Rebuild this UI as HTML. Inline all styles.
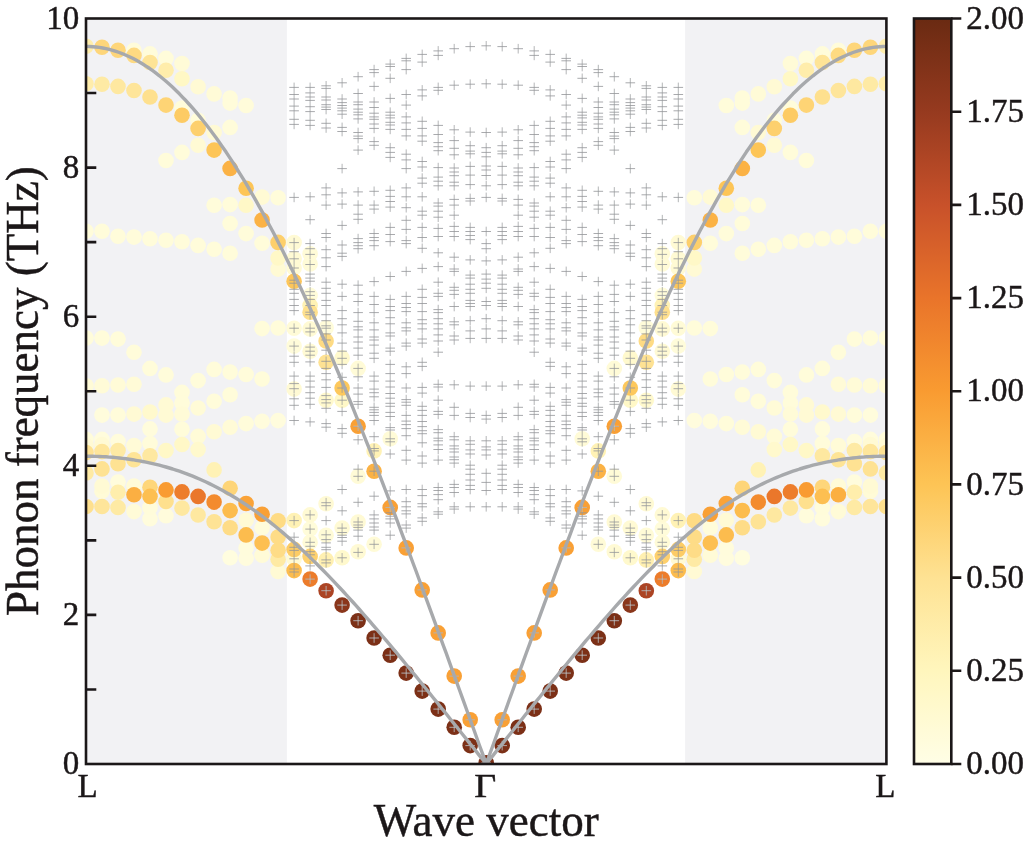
<!DOCTYPE html>
<html><head><meta charset="utf-8"><title>Phonon dispersion</title>
<style>html,body{margin:0;padding:0;background:#fff}svg{display:block}text{font-family:"Liberation Serif","DejaVu Serif",serif;fill:#1b1718;stroke:#1b1718;stroke-width:0.45px}</style></head><body>
<svg width="1025" height="849" viewBox="0 0 1025 849">
<rect x="0" y="0" width="1025" height="849" fill="#fff"/>
<defs><linearGradient id="cb" x1="0" y1="1" x2="0" y2="0">
<stop offset="0" stop-color="#fffee6"/>
<stop offset="0.125" stop-color="#fff6bd"/>
<stop offset="0.25" stop-color="#fee293"/>
<stop offset="0.375" stop-color="#fdc455"/>
<stop offset="0.5" stop-color="#f99b31"/>
<stop offset="0.625" stop-color="#e9742a"/>
<stop offset="0.75" stop-color="#c8512a"/>
<stop offset="0.875" stop-color="#963a1f"/>
<stop offset="1" stop-color="#6a2a12"/>
</linearGradient><clipPath id="ax"><rect x="86" y="18.5" width="800.4" height="745.5"/></clipPath></defs>
<rect x="86" y="18.5" width="200.9" height="745.5" fill="#f2f2f4"/>
<rect x="685.1" y="18.5" width="201.3" height="745.5" fill="#f2f2f4"/>
<g clip-path="url(#ax)">
<g>
<circle cx="230.1" cy="557.7" r="7.8" fill="#fffddf" fill-opacity="1"/>
<circle cx="742.3" cy="557.7" r="7.8" fill="#fffddf" fill-opacity="1"/>
<circle cx="278.1" cy="420.6" r="7.8" fill="#fffcdd" fill-opacity="1"/>
<circle cx="694.3" cy="420.6" r="7.8" fill="#fffcdd" fill-opacity="1"/>
<circle cx="246.1" cy="558.3" r="7.8" fill="#fffcdd" fill-opacity="1"/>
<circle cx="726.3" cy="558.3" r="7.8" fill="#fffcdd" fill-opacity="1"/>
<circle cx="102.0" cy="415.1" r="7.8" fill="#fffcdc" fill-opacity="1"/>
<circle cx="870.4" cy="415.1" r="7.8" fill="#fffcdc" fill-opacity="1"/>
<circle cx="150.0" cy="428.9" r="7.8" fill="#fffcdc" fill-opacity="1"/>
<circle cx="822.4" cy="428.9" r="7.8" fill="#fffcdc" fill-opacity="1"/>
<circle cx="262.1" cy="421.2" r="7.8" fill="#fffcdc" fill-opacity="1"/>
<circle cx="710.3" cy="421.2" r="7.8" fill="#fffcdc" fill-opacity="1"/>
<circle cx="102.0" cy="439.4" r="7.8" fill="#fffcdc" fill-opacity="1"/>
<circle cx="870.4" cy="439.4" r="7.8" fill="#fffcdc" fill-opacity="1"/>
<circle cx="118.0" cy="441.5" r="7.8" fill="#fffcdc" fill-opacity="1"/>
<circle cx="854.4" cy="441.5" r="7.8" fill="#fffcdc" fill-opacity="1"/>
<circle cx="118.0" cy="482.0" r="7.8" fill="#fffcdc" fill-opacity="1"/>
<circle cx="854.4" cy="482.0" r="7.8" fill="#fffcdc" fill-opacity="1"/>
<circle cx="150.0" cy="518.7" r="7.8" fill="#fffcdc" fill-opacity="1"/>
<circle cx="822.4" cy="518.7" r="7.8" fill="#fffcdc" fill-opacity="1"/>
<circle cx="166.0" cy="515.7" r="7.8" fill="#fffcdc" fill-opacity="1"/>
<circle cx="806.4" cy="515.7" r="7.8" fill="#fffcdc" fill-opacity="1"/>
<circle cx="246.1" cy="548.1" r="7.8" fill="#fffcdc" fill-opacity="1"/>
<circle cx="726.3" cy="548.1" r="7.8" fill="#fffcdc" fill-opacity="1"/>
<circle cx="230.1" cy="98.0" r="7.8" fill="#fffcda" fill-opacity="1"/>
<circle cx="742.3" cy="98.0" r="7.8" fill="#fffcda" fill-opacity="1"/>
<circle cx="230.1" cy="103.1" r="7.8" fill="#fffcda" fill-opacity="1"/>
<circle cx="742.3" cy="103.1" r="7.8" fill="#fffcda" fill-opacity="1"/>
<circle cx="246.1" cy="105.5" r="7.8" fill="#fffcda" fill-opacity="1"/>
<circle cx="726.3" cy="105.5" r="7.8" fill="#fffcda" fill-opacity="1"/>
<circle cx="134.0" cy="50.3" r="7.8" fill="#fffcda" fill-opacity="1"/>
<circle cx="838.4" cy="50.3" r="7.8" fill="#fffcda" fill-opacity="1"/>
<circle cx="150.0" cy="53.9" r="7.8" fill="#fffcda" fill-opacity="1"/>
<circle cx="822.4" cy="53.9" r="7.8" fill="#fffcda" fill-opacity="1"/>
<circle cx="166.0" cy="58.4" r="7.8" fill="#fffcda" fill-opacity="1"/>
<circle cx="806.4" cy="58.4" r="7.8" fill="#fffcda" fill-opacity="1"/>
<circle cx="182.0" cy="108.1" r="7.8" fill="#fffcda" fill-opacity="1"/>
<circle cx="790.4" cy="108.1" r="7.8" fill="#fffcda" fill-opacity="1"/>
<circle cx="198.1" cy="120.3" r="7.8" fill="#fffcda" fill-opacity="1"/>
<circle cx="774.3" cy="120.3" r="7.8" fill="#fffcda" fill-opacity="1"/>
<circle cx="230.1" cy="127.4" r="7.8" fill="#fffcda" fill-opacity="1"/>
<circle cx="742.3" cy="127.4" r="7.8" fill="#fffcda" fill-opacity="1"/>
<circle cx="166.0" cy="160.5" r="7.8" fill="#fffcda" fill-opacity="1"/>
<circle cx="806.4" cy="160.5" r="7.8" fill="#fffcda" fill-opacity="1"/>
<circle cx="182.0" cy="152.4" r="7.8" fill="#fffcda" fill-opacity="1"/>
<circle cx="790.4" cy="152.4" r="7.8" fill="#fffcda" fill-opacity="1"/>
<circle cx="214.1" cy="205.2" r="7.8" fill="#fffcda" fill-opacity="1"/>
<circle cx="758.3" cy="205.2" r="7.8" fill="#fffcda" fill-opacity="1"/>
<circle cx="230.1" cy="204.6" r="7.8" fill="#fffcda" fill-opacity="1"/>
<circle cx="742.3" cy="204.6" r="7.8" fill="#fffcda" fill-opacity="1"/>
<circle cx="278.1" cy="197.7" r="7.8" fill="#fffcda" fill-opacity="1"/>
<circle cx="694.3" cy="197.7" r="7.8" fill="#fffcda" fill-opacity="1"/>
<circle cx="230.1" cy="223.5" r="7.8" fill="#fffcda" fill-opacity="1"/>
<circle cx="742.3" cy="223.5" r="7.8" fill="#fffcda" fill-opacity="1"/>
<circle cx="246.1" cy="233.6" r="7.8" fill="#fffcda" fill-opacity="1"/>
<circle cx="726.3" cy="233.6" r="7.8" fill="#fffcda" fill-opacity="1"/>
<circle cx="262.1" cy="243.2" r="7.8" fill="#fffcda" fill-opacity="1"/>
<circle cx="710.3" cy="243.2" r="7.8" fill="#fffcda" fill-opacity="1"/>
<circle cx="86.0" cy="231.2" r="7.8" fill="#fffcda" fill-opacity="1"/>
<circle cx="886.4" cy="231.2" r="7.8" fill="#fffcda" fill-opacity="1"/>
<circle cx="102.0" cy="231.2" r="7.8" fill="#fffcda" fill-opacity="1"/>
<circle cx="870.4" cy="231.2" r="7.8" fill="#fffcda" fill-opacity="1"/>
<circle cx="118.0" cy="236.3" r="7.8" fill="#fffcda" fill-opacity="1"/>
<circle cx="854.4" cy="236.3" r="7.8" fill="#fffcda" fill-opacity="1"/>
<circle cx="134.0" cy="237.1" r="7.8" fill="#fffcda" fill-opacity="1"/>
<circle cx="838.4" cy="237.1" r="7.8" fill="#fffcda" fill-opacity="1"/>
<circle cx="150.0" cy="238.7" r="7.8" fill="#fffcda" fill-opacity="1"/>
<circle cx="822.4" cy="238.7" r="7.8" fill="#fffcda" fill-opacity="1"/>
<circle cx="166.0" cy="240.3" r="7.8" fill="#fffcda" fill-opacity="1"/>
<circle cx="806.4" cy="240.3" r="7.8" fill="#fffcda" fill-opacity="1"/>
<circle cx="182.0" cy="241.7" r="7.8" fill="#fffcda" fill-opacity="1"/>
<circle cx="790.4" cy="241.7" r="7.8" fill="#fffcda" fill-opacity="1"/>
<circle cx="198.1" cy="245.4" r="7.8" fill="#fffcda" fill-opacity="1"/>
<circle cx="774.3" cy="245.4" r="7.8" fill="#fffcda" fill-opacity="1"/>
<circle cx="214.1" cy="249.3" r="7.8" fill="#fffcda" fill-opacity="1"/>
<circle cx="758.3" cy="249.3" r="7.8" fill="#fffcda" fill-opacity="1"/>
<circle cx="230.1" cy="253.3" r="7.8" fill="#fffcda" fill-opacity="1"/>
<circle cx="742.3" cy="253.3" r="7.8" fill="#fffcda" fill-opacity="1"/>
<circle cx="262.1" cy="328.6" r="7.8" fill="#fffcda" fill-opacity="1"/>
<circle cx="710.3" cy="328.6" r="7.8" fill="#fffcda" fill-opacity="1"/>
<circle cx="278.1" cy="328.0" r="7.8" fill="#fffcda" fill-opacity="1"/>
<circle cx="694.3" cy="328.0" r="7.8" fill="#fffcda" fill-opacity="1"/>
<circle cx="86.0" cy="338.1" r="7.8" fill="#fffcda" fill-opacity="1"/>
<circle cx="886.4" cy="338.1" r="7.8" fill="#fffcda" fill-opacity="1"/>
<circle cx="102.0" cy="338.1" r="7.8" fill="#fffcda" fill-opacity="1"/>
<circle cx="870.4" cy="338.1" r="7.8" fill="#fffcda" fill-opacity="1"/>
<circle cx="118.0" cy="339.1" r="7.8" fill="#fffcda" fill-opacity="1"/>
<circle cx="854.4" cy="339.1" r="7.8" fill="#fffcda" fill-opacity="1"/>
<circle cx="134.0" cy="352.3" r="7.8" fill="#fffcda" fill-opacity="1"/>
<circle cx="838.4" cy="352.3" r="7.8" fill="#fffcda" fill-opacity="1"/>
<circle cx="150.0" cy="368.4" r="7.8" fill="#fffcda" fill-opacity="1"/>
<circle cx="822.4" cy="368.4" r="7.8" fill="#fffcda" fill-opacity="1"/>
<circle cx="166.0" cy="374.9" r="7.8" fill="#fffcda" fill-opacity="1"/>
<circle cx="806.4" cy="374.9" r="7.8" fill="#fffcda" fill-opacity="1"/>
<circle cx="198.1" cy="380.6" r="7.8" fill="#fffcda" fill-opacity="1"/>
<circle cx="774.3" cy="380.6" r="7.8" fill="#fffcda" fill-opacity="1"/>
<circle cx="214.1" cy="369.4" r="7.8" fill="#fffcda" fill-opacity="1"/>
<circle cx="758.3" cy="369.4" r="7.8" fill="#fffcda" fill-opacity="1"/>
<circle cx="230.1" cy="372.1" r="7.8" fill="#fffcda" fill-opacity="1"/>
<circle cx="742.3" cy="372.1" r="7.8" fill="#fffcda" fill-opacity="1"/>
<circle cx="246.1" cy="374.5" r="7.8" fill="#fffcda" fill-opacity="1"/>
<circle cx="726.3" cy="374.5" r="7.8" fill="#fffcda" fill-opacity="1"/>
<circle cx="262.1" cy="379.0" r="7.8" fill="#fffcda" fill-opacity="1"/>
<circle cx="710.3" cy="379.0" r="7.8" fill="#fffcda" fill-opacity="1"/>
<circle cx="118.0" cy="415.1" r="7.8" fill="#fffcda" fill-opacity="1"/>
<circle cx="854.4" cy="415.1" r="7.8" fill="#fffcda" fill-opacity="1"/>
<circle cx="182.0" cy="392.4" r="7.8" fill="#fffcda" fill-opacity="1"/>
<circle cx="790.4" cy="392.4" r="7.8" fill="#fffcda" fill-opacity="1"/>
<circle cx="182.0" cy="402.9" r="7.8" fill="#fffcda" fill-opacity="1"/>
<circle cx="790.4" cy="402.9" r="7.8" fill="#fffcda" fill-opacity="1"/>
<circle cx="214.1" cy="401.3" r="7.8" fill="#fffcda" fill-opacity="1"/>
<circle cx="758.3" cy="401.3" r="7.8" fill="#fffcda" fill-opacity="1"/>
<circle cx="230.1" cy="394.8" r="7.8" fill="#fffcda" fill-opacity="1"/>
<circle cx="742.3" cy="394.8" r="7.8" fill="#fffcda" fill-opacity="1"/>
<circle cx="182.0" cy="429.3" r="7.8" fill="#fffcda" fill-opacity="1"/>
<circle cx="790.4" cy="429.3" r="7.8" fill="#fffcda" fill-opacity="1"/>
<circle cx="246.1" cy="423.6" r="7.8" fill="#fffcda" fill-opacity="1"/>
<circle cx="726.3" cy="423.6" r="7.8" fill="#fffcda" fill-opacity="1"/>
<circle cx="86.0" cy="439.4" r="7.8" fill="#fffcda" fill-opacity="1"/>
<circle cx="886.4" cy="439.4" r="7.8" fill="#fffcda" fill-opacity="1"/>
<circle cx="150.0" cy="443.5" r="7.8" fill="#fffcda" fill-opacity="1"/>
<circle cx="822.4" cy="443.5" r="7.8" fill="#fffcda" fill-opacity="1"/>
<circle cx="150.0" cy="507.5" r="7.8" fill="#fffcda" fill-opacity="1"/>
<circle cx="822.4" cy="507.5" r="7.8" fill="#fffcda" fill-opacity="1"/>
<circle cx="262.1" cy="527.8" r="7.8" fill="#fffcda" fill-opacity="1"/>
<circle cx="710.3" cy="527.8" r="7.8" fill="#fffcda" fill-opacity="1"/>
<circle cx="294.1" cy="346.1" r="7.8" fill="#fffcda" fill-opacity="1"/>
<circle cx="678.3" cy="346.1" r="7.8" fill="#fffcda" fill-opacity="1"/>
<circle cx="310.1" cy="295.4" r="7.8" fill="#fffcda" fill-opacity="1"/>
<circle cx="662.3" cy="295.4" r="7.8" fill="#fffcda" fill-opacity="1"/>
<circle cx="326.1" cy="327.8" r="7.8" fill="#fffcda" fill-opacity="1"/>
<circle cx="646.3" cy="327.8" r="7.8" fill="#fffcda" fill-opacity="1"/>
<circle cx="310.1" cy="529.1" r="7.8" fill="#fffcda" fill-opacity="1"/>
<circle cx="662.3" cy="529.1" r="7.8" fill="#fffcda" fill-opacity="1"/>
<circle cx="214.1" cy="93.9" r="7.8" fill="#fffbd7" fill-opacity="1"/>
<circle cx="758.3" cy="93.9" r="7.8" fill="#fffbd7" fill-opacity="1"/>
<circle cx="182.0" cy="63.5" r="7.8" fill="#fffbd7" fill-opacity="1"/>
<circle cx="790.4" cy="63.5" r="7.8" fill="#fffbd7" fill-opacity="1"/>
<circle cx="86.0" cy="385.7" r="7.8" fill="#fffbd7" fill-opacity="1"/>
<circle cx="886.4" cy="385.7" r="7.8" fill="#fffbd7" fill-opacity="1"/>
<circle cx="102.0" cy="385.7" r="7.8" fill="#fffbd7" fill-opacity="1"/>
<circle cx="870.4" cy="385.7" r="7.8" fill="#fffbd7" fill-opacity="1"/>
<circle cx="118.0" cy="385.0" r="7.8" fill="#fffbd7" fill-opacity="1"/>
<circle cx="854.4" cy="385.0" r="7.8" fill="#fffbd7" fill-opacity="1"/>
<circle cx="134.0" cy="384.2" r="7.8" fill="#fffbd7" fill-opacity="1"/>
<circle cx="838.4" cy="384.2" r="7.8" fill="#fffbd7" fill-opacity="1"/>
<circle cx="182.0" cy="414.1" r="7.8" fill="#fffbd7" fill-opacity="1"/>
<circle cx="790.4" cy="414.1" r="7.8" fill="#fffbd7" fill-opacity="1"/>
<circle cx="198.1" cy="408.0" r="7.8" fill="#fffbd7" fill-opacity="1"/>
<circle cx="774.3" cy="408.0" r="7.8" fill="#fffbd7" fill-opacity="1"/>
<circle cx="198.1" cy="436.4" r="7.8" fill="#fffbd7" fill-opacity="1"/>
<circle cx="774.3" cy="436.4" r="7.8" fill="#fffbd7" fill-opacity="1"/>
<circle cx="230.1" cy="427.3" r="7.8" fill="#fffbd7" fill-opacity="1"/>
<circle cx="742.3" cy="427.3" r="7.8" fill="#fffbd7" fill-opacity="1"/>
<circle cx="134.0" cy="445.5" r="7.8" fill="#fffbd7" fill-opacity="1"/>
<circle cx="838.4" cy="445.5" r="7.8" fill="#fffbd7" fill-opacity="1"/>
<circle cx="134.0" cy="486.1" r="7.8" fill="#fffbd7" fill-opacity="1"/>
<circle cx="838.4" cy="486.1" r="7.8" fill="#fffbd7" fill-opacity="1"/>
<circle cx="134.0" cy="511.6" r="7.8" fill="#fffbd7" fill-opacity="1"/>
<circle cx="838.4" cy="511.6" r="7.8" fill="#fffbd7" fill-opacity="1"/>
<circle cx="262.1" cy="555.2" r="7.8" fill="#fffbd7" fill-opacity="1"/>
<circle cx="710.3" cy="555.2" r="7.8" fill="#fffbd7" fill-opacity="1"/>
<circle cx="102.0" cy="491.3" r="7.8" fill="#fffbd7" fill-opacity="1"/>
<circle cx="870.4" cy="491.3" r="7.8" fill="#fffbd7" fill-opacity="1"/>
<circle cx="294.1" cy="328.2" r="7.8" fill="#fffbd7" fill-opacity="1"/>
<circle cx="678.3" cy="328.2" r="7.8" fill="#fffbd7" fill-opacity="1"/>
<circle cx="310.1" cy="253.8" r="7.8" fill="#fffbd7" fill-opacity="1"/>
<circle cx="662.3" cy="253.8" r="7.8" fill="#fffbd7" fill-opacity="1"/>
<circle cx="310.1" cy="263.9" r="7.8" fill="#fffbd7" fill-opacity="1"/>
<circle cx="662.3" cy="263.9" r="7.8" fill="#fffbd7" fill-opacity="1"/>
<circle cx="358.1" cy="368.4" r="7.8" fill="#fffbd7" fill-opacity="1"/>
<circle cx="614.3" cy="368.4" r="7.8" fill="#fffbd7" fill-opacity="1"/>
<circle cx="358.1" cy="476.3" r="7.8" fill="#fffbd7" fill-opacity="1"/>
<circle cx="614.3" cy="476.3" r="7.8" fill="#fffbd7" fill-opacity="1"/>
<circle cx="390.2" cy="438.8" r="7.8" fill="#fffbd7" fill-opacity="1"/>
<circle cx="582.2" cy="438.8" r="7.8" fill="#fffbd7" fill-opacity="1"/>
<circle cx="310.1" cy="542.3" r="7.8" fill="#fffbd7" fill-opacity="1"/>
<circle cx="662.3" cy="542.3" r="7.8" fill="#fffbd7" fill-opacity="1"/>
<circle cx="326.1" cy="535.2" r="7.8" fill="#fffbd7" fill-opacity="1"/>
<circle cx="646.3" cy="535.2" r="7.8" fill="#fffbd7" fill-opacity="1"/>
<circle cx="374.1" cy="544.3" r="7.8" fill="#fffbd7" fill-opacity="1"/>
<circle cx="598.3" cy="544.3" r="7.8" fill="#fffbd7" fill-opacity="1"/>
<circle cx="198.1" cy="86.8" r="7.8" fill="#fffad4" fill-opacity="1"/>
<circle cx="774.3" cy="86.8" r="7.8" fill="#fffad4" fill-opacity="1"/>
<circle cx="214.1" cy="132.5" r="7.8" fill="#fffad4" fill-opacity="1"/>
<circle cx="758.3" cy="132.5" r="7.8" fill="#fffad4" fill-opacity="1"/>
<circle cx="198.1" cy="145.3" r="7.8" fill="#fffad4" fill-opacity="1"/>
<circle cx="774.3" cy="145.3" r="7.8" fill="#fffad4" fill-opacity="1"/>
<circle cx="278.1" cy="269.1" r="7.8" fill="#fffad4" fill-opacity="1"/>
<circle cx="694.3" cy="269.1" r="7.8" fill="#fffad4" fill-opacity="1"/>
<circle cx="262.1" cy="197.1" r="7.8" fill="#fffad4" fill-opacity="1"/>
<circle cx="710.3" cy="197.1" r="7.8" fill="#fffad4" fill-opacity="1"/>
<circle cx="134.0" cy="414.1" r="7.8" fill="#fffad4" fill-opacity="1"/>
<circle cx="838.4" cy="414.1" r="7.8" fill="#fffad4" fill-opacity="1"/>
<circle cx="166.0" cy="404.9" r="7.8" fill="#fffad4" fill-opacity="1"/>
<circle cx="806.4" cy="404.9" r="7.8" fill="#fffad4" fill-opacity="1"/>
<circle cx="166.0" cy="415.1" r="7.8" fill="#fffad4" fill-opacity="1"/>
<circle cx="806.4" cy="415.1" r="7.8" fill="#fffad4" fill-opacity="1"/>
<circle cx="214.1" cy="431.7" r="7.8" fill="#fffad4" fill-opacity="1"/>
<circle cx="758.3" cy="431.7" r="7.8" fill="#fffad4" fill-opacity="1"/>
<circle cx="86.0" cy="445.5" r="7.8" fill="#fffad4" fill-opacity="1"/>
<circle cx="886.4" cy="445.5" r="7.8" fill="#fffad4" fill-opacity="1"/>
<circle cx="102.0" cy="444.5" r="7.8" fill="#fffad4" fill-opacity="1"/>
<circle cx="870.4" cy="444.5" r="7.8" fill="#fffad4" fill-opacity="1"/>
<circle cx="102.0" cy="486.1" r="7.8" fill="#fffad4" fill-opacity="1"/>
<circle cx="870.4" cy="486.1" r="7.8" fill="#fffad4" fill-opacity="1"/>
<circle cx="278.1" cy="571.5" r="7.8" fill="#fffad4" fill-opacity="1"/>
<circle cx="694.3" cy="571.5" r="7.8" fill="#fffad4" fill-opacity="1"/>
<circle cx="246.1" cy="520.3" r="7.8" fill="#fffad4" fill-opacity="1"/>
<circle cx="726.3" cy="520.3" r="7.8" fill="#fffad4" fill-opacity="1"/>
<circle cx="294.1" cy="242.6" r="7.8" fill="#fffad4" fill-opacity="1"/>
<circle cx="678.3" cy="242.6" r="7.8" fill="#fffad4" fill-opacity="1"/>
<circle cx="294.1" cy="258.8" r="7.8" fill="#fffad4" fill-opacity="1"/>
<circle cx="678.3" cy="258.8" r="7.8" fill="#fffad4" fill-opacity="1"/>
<circle cx="294.1" cy="268.0" r="7.8" fill="#fffad4" fill-opacity="1"/>
<circle cx="678.3" cy="268.0" r="7.8" fill="#fffad4" fill-opacity="1"/>
<circle cx="310.1" cy="328.9" r="7.8" fill="#fffad4" fill-opacity="1"/>
<circle cx="662.3" cy="328.9" r="7.8" fill="#fffad4" fill-opacity="1"/>
<circle cx="310.1" cy="351.2" r="7.8" fill="#fffad4" fill-opacity="1"/>
<circle cx="662.3" cy="351.2" r="7.8" fill="#fffad4" fill-opacity="1"/>
<circle cx="294.1" cy="389.1" r="7.8" fill="#fffad4" fill-opacity="1"/>
<circle cx="678.3" cy="389.1" r="7.8" fill="#fffad4" fill-opacity="1"/>
<circle cx="326.1" cy="503.7" r="7.8" fill="#fffad4" fill-opacity="1"/>
<circle cx="646.3" cy="503.7" r="7.8" fill="#fffad4" fill-opacity="1"/>
<circle cx="310.1" cy="514.9" r="7.8" fill="#fffad4" fill-opacity="1"/>
<circle cx="662.3" cy="514.9" r="7.8" fill="#fffad4" fill-opacity="1"/>
<circle cx="342.1" cy="528.1" r="7.8" fill="#fffad4" fill-opacity="1"/>
<circle cx="630.3" cy="528.1" r="7.8" fill="#fffad4" fill-opacity="1"/>
<circle cx="358.1" cy="522.0" r="7.8" fill="#fffad4" fill-opacity="1"/>
<circle cx="614.3" cy="522.0" r="7.8" fill="#fffad4" fill-opacity="1"/>
<circle cx="294.1" cy="558.8" r="7.8" fill="#fffad4" fill-opacity="1"/>
<circle cx="678.3" cy="558.8" r="7.8" fill="#fffad4" fill-opacity="1"/>
<circle cx="358.1" cy="551.7" r="7.8" fill="#fffad4" fill-opacity="1"/>
<circle cx="614.3" cy="551.7" r="7.8" fill="#fffad4" fill-opacity="1"/>
<circle cx="150.0" cy="412.0" r="7.8" fill="#fff9cd" fill-opacity="1"/>
<circle cx="822.4" cy="412.0" r="7.8" fill="#fff9cd" fill-opacity="1"/>
<circle cx="198.1" cy="449.6" r="7.8" fill="#fff9cd" fill-opacity="1"/>
<circle cx="774.3" cy="449.6" r="7.8" fill="#fff9cd" fill-opacity="1"/>
<circle cx="342.1" cy="357.9" r="7.8" fill="#fff9cd" fill-opacity="1"/>
<circle cx="630.3" cy="357.9" r="7.8" fill="#fff9cd" fill-opacity="1"/>
<circle cx="326.1" cy="400.2" r="7.8" fill="#fff9cd" fill-opacity="1"/>
<circle cx="646.3" cy="400.2" r="7.8" fill="#fff9cd" fill-opacity="1"/>
<circle cx="342.1" cy="557.8" r="7.8" fill="#fff9cd" fill-opacity="1"/>
<circle cx="630.3" cy="557.8" r="7.8" fill="#fff9cd" fill-opacity="1"/>
<circle cx="278.1" cy="258.0" r="7.8" fill="#fff8c7" fill-opacity="1"/>
<circle cx="694.3" cy="258.0" r="7.8" fill="#fff8c7" fill-opacity="1"/>
<circle cx="246.1" cy="205.2" r="7.8" fill="#fff8c7" fill-opacity="1"/>
<circle cx="726.3" cy="205.2" r="7.8" fill="#fff8c7" fill-opacity="1"/>
<circle cx="166.0" cy="450.6" r="7.8" fill="#fff8c7" fill-opacity="1"/>
<circle cx="806.4" cy="450.6" r="7.8" fill="#fff8c7" fill-opacity="1"/>
<circle cx="182.0" cy="444.5" r="7.8" fill="#fff8c7" fill-opacity="1"/>
<circle cx="790.4" cy="444.5" r="7.8" fill="#fff8c7" fill-opacity="1"/>
<circle cx="342.1" cy="400.2" r="7.8" fill="#fff8c7" fill-opacity="1"/>
<circle cx="630.3" cy="400.2" r="7.8" fill="#fff8c7" fill-opacity="1"/>
<circle cx="182.0" cy="78.7" r="7.8" fill="#fff8c5" fill-opacity="1"/>
<circle cx="790.4" cy="78.7" r="7.8" fill="#fff8c5" fill-opacity="1"/>
<circle cx="214.1" cy="469.9" r="7.8" fill="#fff2b5" fill-opacity="1"/>
<circle cx="758.3" cy="469.9" r="7.8" fill="#fff2b5" fill-opacity="1"/>
<circle cx="310.1" cy="305.5" r="7.8" fill="#fff2b5" fill-opacity="1"/>
<circle cx="662.3" cy="305.5" r="7.8" fill="#fff2b5" fill-opacity="1"/>
<circle cx="374.1" cy="450.9" r="7.8" fill="#fff2b5" fill-opacity="1"/>
<circle cx="598.3" cy="450.9" r="7.8" fill="#fff2b5" fill-opacity="1"/>
<circle cx="294.1" cy="520.6" r="7.8" fill="#fff2b5" fill-opacity="1"/>
<circle cx="678.3" cy="520.6" r="7.8" fill="#fff2b5" fill-opacity="1"/>
<circle cx="326.1" cy="559.9" r="7.8" fill="#fff0b1" fill-opacity="1"/>
<circle cx="646.3" cy="559.9" r="7.8" fill="#fff0b1" fill-opacity="1"/>
<circle cx="86.0" cy="46.2" r="7.8" fill="#ffeeac" fill-opacity="1"/>
<circle cx="886.4" cy="46.2" r="7.8" fill="#ffeeac" fill-opacity="1"/>
<circle cx="118.0" cy="492.2" r="7.8" fill="#ffeeac" fill-opacity="1"/>
<circle cx="854.4" cy="492.2" r="7.8" fill="#ffeeac" fill-opacity="1"/>
<circle cx="166.0" cy="70.2" r="7.8" fill="#ffedab" fill-opacity="1"/>
<circle cx="806.4" cy="70.2" r="7.8" fill="#ffedab" fill-opacity="1"/>
<circle cx="86.0" cy="83.8" r="7.8" fill="#ffedab" fill-opacity="1"/>
<circle cx="886.4" cy="83.8" r="7.8" fill="#ffedab" fill-opacity="1"/>
<circle cx="102.0" cy="84.2" r="7.8" fill="#feeaa4" fill-opacity="1"/>
<circle cx="870.4" cy="84.2" r="7.8" fill="#feeaa4" fill-opacity="1"/>
<circle cx="86.0" cy="472.9" r="7.8" fill="#feeaa4" fill-opacity="1"/>
<circle cx="886.4" cy="472.9" r="7.8" fill="#feeaa4" fill-opacity="1"/>
<circle cx="118.0" cy="450.6" r="7.8" fill="#feeaa4" fill-opacity="1"/>
<circle cx="854.4" cy="450.6" r="7.8" fill="#feeaa4" fill-opacity="1"/>
<circle cx="278.1" cy="559.3" r="7.8" fill="#feeaa4" fill-opacity="1"/>
<circle cx="694.3" cy="559.3" r="7.8" fill="#feeaa4" fill-opacity="1"/>
<circle cx="118.0" cy="507.5" r="7.8" fill="#feeaa4" fill-opacity="1"/>
<circle cx="854.4" cy="507.5" r="7.8" fill="#feeaa4" fill-opacity="1"/>
<circle cx="118.0" cy="86.4" r="7.8" fill="#fee8a0" fill-opacity="1"/>
<circle cx="854.4" cy="86.4" r="7.8" fill="#fee8a0" fill-opacity="1"/>
<circle cx="150.0" cy="455.7" r="7.8" fill="#fee8a0" fill-opacity="1"/>
<circle cx="822.4" cy="455.7" r="7.8" fill="#fee8a0" fill-opacity="1"/>
<circle cx="182.0" cy="508.1" r="7.8" fill="#fee8a0" fill-opacity="1"/>
<circle cx="790.4" cy="508.1" r="7.8" fill="#fee8a0" fill-opacity="1"/>
<circle cx="198.1" cy="515.0" r="7.8" fill="#fee8a0" fill-opacity="1"/>
<circle cx="774.3" cy="515.0" r="7.8" fill="#fee8a0" fill-opacity="1"/>
<circle cx="102.0" cy="451.6" r="7.8" fill="#fee69b" fill-opacity="1"/>
<circle cx="870.4" cy="451.6" r="7.8" fill="#fee69b" fill-opacity="1"/>
<circle cx="134.0" cy="90.5" r="7.8" fill="#fee59a" fill-opacity="1"/>
<circle cx="838.4" cy="90.5" r="7.8" fill="#fee59a" fill-opacity="1"/>
<circle cx="102.0" cy="506.5" r="7.8" fill="#fee59a" fill-opacity="1"/>
<circle cx="870.4" cy="506.5" r="7.8" fill="#fee59a" fill-opacity="1"/>
<circle cx="150.0" cy="62.5" r="7.8" fill="#fee496" fill-opacity="1"/>
<circle cx="822.4" cy="62.5" r="7.8" fill="#fee496" fill-opacity="1"/>
<circle cx="134.0" cy="459.7" r="7.8" fill="#fee496" fill-opacity="1"/>
<circle cx="838.4" cy="459.7" r="7.8" fill="#fee496" fill-opacity="1"/>
<circle cx="214.1" cy="521.7" r="7.8" fill="#fee395" fill-opacity="1"/>
<circle cx="758.3" cy="521.7" r="7.8" fill="#fee395" fill-opacity="1"/>
<circle cx="86.0" cy="452.6" r="7.8" fill="#fee293" fill-opacity="1"/>
<circle cx="886.4" cy="452.6" r="7.8" fill="#fee293" fill-opacity="1"/>
<circle cx="102.0" cy="468.9" r="7.8" fill="#fee293" fill-opacity="1"/>
<circle cx="870.4" cy="468.9" r="7.8" fill="#fee293" fill-opacity="1"/>
<circle cx="118.0" cy="463.8" r="7.8" fill="#fee293" fill-opacity="1"/>
<circle cx="854.4" cy="463.8" r="7.8" fill="#fee293" fill-opacity="1"/>
<circle cx="326.1" cy="362.3" r="7.8" fill="#fee293" fill-opacity="1"/>
<circle cx="646.3" cy="362.3" r="7.8" fill="#fee293" fill-opacity="1"/>
<circle cx="150.0" cy="97.0" r="7.8" fill="#fee08e" fill-opacity="1"/>
<circle cx="822.4" cy="97.0" r="7.8" fill="#fee08e" fill-opacity="1"/>
<circle cx="166.0" cy="501.5" r="7.8" fill="#fee08e" fill-opacity="1"/>
<circle cx="806.4" cy="501.5" r="7.8" fill="#fee08e" fill-opacity="1"/>
<circle cx="86.0" cy="506.5" r="7.8" fill="#fee08e" fill-opacity="1"/>
<circle cx="886.4" cy="506.5" r="7.8" fill="#fee08e" fill-opacity="1"/>
<circle cx="310.1" cy="312.2" r="7.8" fill="#fee08e" fill-opacity="1"/>
<circle cx="662.3" cy="312.2" r="7.8" fill="#fee08e" fill-opacity="1"/>
<circle cx="278.1" cy="537.0" r="7.8" fill="#fedc87" fill-opacity="1"/>
<circle cx="694.3" cy="537.0" r="7.8" fill="#fedc87" fill-opacity="1"/>
<circle cx="278.1" cy="550.2" r="7.8" fill="#fedc87" fill-opacity="1"/>
<circle cx="694.3" cy="550.2" r="7.8" fill="#fedc87" fill-opacity="1"/>
<circle cx="230.1" cy="527.8" r="7.8" fill="#fedc87" fill-opacity="1"/>
<circle cx="742.3" cy="527.8" r="7.8" fill="#fedc87" fill-opacity="1"/>
<circle cx="278.1" cy="520.7" r="7.8" fill="#fedb84" fill-opacity="1"/>
<circle cx="694.3" cy="520.7" r="7.8" fill="#fedb84" fill-opacity="1"/>
<circle cx="326.1" cy="341.0" r="7.8" fill="#fedb84" fill-opacity="1"/>
<circle cx="646.3" cy="341.0" r="7.8" fill="#fedb84" fill-opacity="1"/>
<circle cx="134.0" cy="55.4" r="7.8" fill="#feda82" fill-opacity="1"/>
<circle cx="838.4" cy="55.4" r="7.8" fill="#feda82" fill-opacity="1"/>
<circle cx="102.0" cy="47.2" r="7.8" fill="#fed67a" fill-opacity="1"/>
<circle cx="870.4" cy="47.2" r="7.8" fill="#fed67a" fill-opacity="1"/>
<circle cx="118.0" cy="50.3" r="7.8" fill="#fed67a" fill-opacity="1"/>
<circle cx="854.4" cy="50.3" r="7.8" fill="#fed67a" fill-opacity="1"/>
<circle cx="150.0" cy="487.2" r="7.8" fill="#fed67a" fill-opacity="1"/>
<circle cx="822.4" cy="487.2" r="7.8" fill="#fed67a" fill-opacity="1"/>
<circle cx="230.1" cy="488.3" r="7.8" fill="#fed578" fill-opacity="1"/>
<circle cx="742.3" cy="488.3" r="7.8" fill="#fed578" fill-opacity="1"/>
<circle cx="166.0" cy="105.1" r="7.8" fill="#fed475" fill-opacity="1"/>
<circle cx="806.4" cy="105.1" r="7.8" fill="#fed475" fill-opacity="1"/>
<circle cx="198.1" cy="128.4" r="7.8" fill="#fdd06e" fill-opacity="1"/>
<circle cx="774.3" cy="128.4" r="7.8" fill="#fdd06e" fill-opacity="1"/>
<circle cx="310.1" cy="556.4" r="7.8" fill="#fdd06e" fill-opacity="1"/>
<circle cx="662.3" cy="556.4" r="7.8" fill="#fdd06e" fill-opacity="1"/>
<circle cx="278.1" cy="242.4" r="7.8" fill="#fdcf6b" fill-opacity="1"/>
<circle cx="694.3" cy="242.4" r="7.8" fill="#fdcf6b" fill-opacity="1"/>
<circle cx="294.1" cy="549.4" r="7.8" fill="#fdcc66" fill-opacity="1"/>
<circle cx="678.3" cy="549.4" r="7.8" fill="#fdcc66" fill-opacity="1"/>
<circle cx="182.0" cy="115.2" r="7.8" fill="#fdcb64" fill-opacity="1"/>
<circle cx="790.4" cy="115.2" r="7.8" fill="#fdcb64" fill-opacity="1"/>
<circle cx="342.1" cy="388.0" r="7.8" fill="#fdc85c" fill-opacity="1"/>
<circle cx="630.3" cy="388.0" r="7.8" fill="#fdc85c" fill-opacity="1"/>
<circle cx="294.1" cy="281.2" r="7.8" fill="#fdc65a" fill-opacity="1"/>
<circle cx="678.3" cy="281.2" r="7.8" fill="#fdc65a" fill-opacity="1"/>
<circle cx="214.1" cy="150.1" r="7.8" fill="#fdc557" fill-opacity="1"/>
<circle cx="758.3" cy="150.1" r="7.8" fill="#fdc557" fill-opacity="1"/>
<circle cx="246.1" cy="188.3" r="7.8" fill="#fdc557" fill-opacity="1"/>
<circle cx="726.3" cy="188.3" r="7.8" fill="#fdc557" fill-opacity="1"/>
<circle cx="150.0" cy="496.4" r="7.8" fill="#fdbf51" fill-opacity="1"/>
<circle cx="822.4" cy="496.4" r="7.8" fill="#fdbf51" fill-opacity="1"/>
<circle cx="262.1" cy="543.1" r="7.8" fill="#fdbf51" fill-opacity="1"/>
<circle cx="710.3" cy="543.1" r="7.8" fill="#fdbf51" fill-opacity="1"/>
<circle cx="230.1" cy="510.6" r="7.8" fill="#fcbc4e" fill-opacity="1"/>
<circle cx="742.3" cy="510.6" r="7.8" fill="#fcbc4e" fill-opacity="1"/>
<circle cx="246.1" cy="534.9" r="7.8" fill="#fcbc4e" fill-opacity="1"/>
<circle cx="726.3" cy="534.9" r="7.8" fill="#fcbc4e" fill-opacity="1"/>
<circle cx="294.1" cy="570.6" r="7.8" fill="#fcbc4e" fill-opacity="1"/>
<circle cx="678.3" cy="570.6" r="7.8" fill="#fcbc4e" fill-opacity="1"/>
<circle cx="230.1" cy="168.4" r="7.8" fill="#fbb245" fill-opacity="1"/>
<circle cx="742.3" cy="168.4" r="7.8" fill="#fbb245" fill-opacity="1"/>
<circle cx="262.1" cy="220.0" r="7.8" fill="#fbb245" fill-opacity="1"/>
<circle cx="710.3" cy="220.0" r="7.8" fill="#fbb245" fill-opacity="1"/>
<circle cx="374.1" cy="471.2" r="7.8" fill="#fbb245" fill-opacity="1"/>
<circle cx="598.3" cy="471.2" r="7.8" fill="#fbb245" fill-opacity="1"/>
<circle cx="134.0" cy="494.8" r="7.8" fill="#fbaf42" fill-opacity="1"/>
<circle cx="838.4" cy="494.8" r="7.8" fill="#fbaf42" fill-opacity="1"/>
<circle cx="246.1" cy="503.5" r="7.8" fill="#faa338" fill-opacity="1"/>
<circle cx="726.3" cy="503.5" r="7.8" fill="#faa338" fill-opacity="1"/>
<circle cx="262.1" cy="514.2" r="7.8" fill="#f9a035" fill-opacity="1"/>
<circle cx="710.3" cy="514.2" r="7.8" fill="#f9a035" fill-opacity="1"/>
<circle cx="358.1" cy="426.2" r="7.8" fill="#f9a035" fill-opacity="1"/>
<circle cx="614.3" cy="426.2" r="7.8" fill="#f9a035" fill-opacity="1"/>
<circle cx="390.2" cy="507.4" r="7.8" fill="#f9a035" fill-opacity="1"/>
<circle cx="582.2" cy="507.4" r="7.8" fill="#f9a035" fill-opacity="1"/>
<circle cx="406.2" cy="547.9" r="7.8" fill="#f9a035" fill-opacity="1"/>
<circle cx="566.2" cy="547.9" r="7.8" fill="#f9a035" fill-opacity="1"/>
<circle cx="422.2" cy="589.9" r="7.8" fill="#f9a035" fill-opacity="1"/>
<circle cx="550.2" cy="589.9" r="7.8" fill="#f9a035" fill-opacity="1"/>
<circle cx="438.2" cy="632.9" r="7.8" fill="#f9a035" fill-opacity="1"/>
<circle cx="534.2" cy="632.9" r="7.8" fill="#f9a035" fill-opacity="1"/>
<circle cx="454.2" cy="676.1" r="7.8" fill="#f9a035" fill-opacity="1"/>
<circle cx="518.2" cy="676.1" r="7.8" fill="#f9a035" fill-opacity="1"/>
<circle cx="470.2" cy="719.8" r="7.8" fill="#f9a035" fill-opacity="1"/>
<circle cx="502.2" cy="719.8" r="7.8" fill="#f9a035" fill-opacity="1"/>
<circle cx="166.0" cy="489.9" r="7.8" fill="#f99b31" fill-opacity="1"/>
<circle cx="806.4" cy="489.9" r="7.8" fill="#f99b31" fill-opacity="1"/>
<circle cx="214.1" cy="502.1" r="7.8" fill="#f38b2e" fill-opacity="1"/>
<circle cx="758.3" cy="502.1" r="7.8" fill="#f38b2e" fill-opacity="1"/>
<circle cx="182.0" cy="491.9" r="7.8" fill="#ed7d2c" fill-opacity="1"/>
<circle cx="790.4" cy="491.9" r="7.8" fill="#ed7d2c" fill-opacity="1"/>
<circle cx="310.1" cy="579.1" r="7.8" fill="#ec7c2b" fill-opacity="1"/>
<circle cx="662.3" cy="579.1" r="7.8" fill="#ec7c2b" fill-opacity="1"/>
<circle cx="198.1" cy="496.4" r="7.8" fill="#ea772b" fill-opacity="1"/>
<circle cx="774.3" cy="496.4" r="7.8" fill="#ea772b" fill-opacity="1"/>
<circle cx="326.1" cy="590.7" r="7.8" fill="#ac4424" fill-opacity="1"/>
<circle cx="646.3" cy="590.7" r="7.8" fill="#ac4424" fill-opacity="1"/>
<circle cx="342.1" cy="605.1" r="7.8" fill="#8a361b" fill-opacity="1"/>
<circle cx="630.3" cy="605.1" r="7.8" fill="#8a361b" fill-opacity="1"/>
<circle cx="358.1" cy="620.7" r="7.8" fill="#7c3017" fill-opacity="1"/>
<circle cx="614.3" cy="620.7" r="7.8" fill="#7c3017" fill-opacity="1"/>
<circle cx="374.1" cy="638.0" r="7.8" fill="#7c3017" fill-opacity="1"/>
<circle cx="598.3" cy="638.0" r="7.8" fill="#7c3017" fill-opacity="1"/>
<circle cx="390.2" cy="655.2" r="7.8" fill="#7c3017" fill-opacity="1"/>
<circle cx="582.2" cy="655.2" r="7.8" fill="#7c3017" fill-opacity="1"/>
<circle cx="406.2" cy="673.1" r="7.8" fill="#7c3017" fill-opacity="1"/>
<circle cx="566.2" cy="673.1" r="7.8" fill="#7c3017" fill-opacity="1"/>
<circle cx="422.2" cy="691.1" r="7.8" fill="#7c3017" fill-opacity="1"/>
<circle cx="550.2" cy="691.1" r="7.8" fill="#7c3017" fill-opacity="1"/>
<circle cx="438.2" cy="709.1" r="7.8" fill="#7c3017" fill-opacity="1"/>
<circle cx="534.2" cy="709.1" r="7.8" fill="#7c3017" fill-opacity="1"/>
<circle cx="454.2" cy="727.3" r="7.8" fill="#7c3017" fill-opacity="1"/>
<circle cx="518.2" cy="727.3" r="7.8" fill="#7c3017" fill-opacity="1"/>
<circle cx="470.2" cy="745.6" r="7.8" fill="#7c3017" fill-opacity="1"/>
<circle cx="502.2" cy="745.6" r="7.8" fill="#7c3017" fill-opacity="1"/>
<circle cx="486.2" cy="762.8" r="7.8" fill="#7c3017" fill-opacity="1"/>
</g>
<path d="M289.3 87.4h9.6M289.3 94.5h9.6M289.3 99.0h9.6M289.3 106.1h9.6M289.3 110.8h9.6M289.3 119.3h9.6M289.3 124.4h9.6M289.3 197.4h9.6M289.3 242.6h9.6M289.3 251.7h9.6M289.3 258.8h9.6M289.3 268.0h9.6M289.3 280.2h9.6M289.3 283.2h9.6M289.3 289.3h9.6M289.3 293.3h9.6M289.3 299.4h9.6M289.3 305.5h9.6M289.3 310.6h9.6M289.3 328.2h9.6M289.3 346.1h9.6M289.3 356.2h9.6M289.3 362.3h9.6M289.3 376.1h9.6M289.3 383.6h9.6M289.3 388.7h9.6M289.3 398.8h9.6M289.3 405.3h9.6M289.3 420.5h9.6M289.3 520.6h9.6M289.3 537.2h9.6M289.3 547.3h9.6M289.3 550.4h9.6M289.3 558.8h9.6M289.3 569.0h9.6M289.3 572.0h9.6M673.5 87.4h9.6M673.5 94.5h9.6M673.5 99.0h9.6M673.5 106.1h9.6M673.5 110.8h9.6M673.5 119.3h9.6M673.5 124.4h9.6M673.5 197.4h9.6M673.5 242.6h9.6M673.5 251.7h9.6M673.5 258.8h9.6M673.5 268.0h9.6M673.5 280.2h9.6M673.5 283.2h9.6M673.5 289.3h9.6M673.5 293.3h9.6M673.5 299.4h9.6M673.5 305.5h9.6M673.5 310.6h9.6M673.5 328.2h9.6M673.5 346.1h9.6M673.5 356.2h9.6M673.5 362.3h9.6M673.5 376.1h9.6M673.5 383.6h9.6M673.5 388.7h9.6M673.5 398.8h9.6M673.5 405.3h9.6M673.5 420.5h9.6M673.5 520.6h9.6M673.5 537.2h9.6M673.5 547.3h9.6M673.5 550.4h9.6M673.5 558.8h9.6M673.5 569.0h9.6M673.5 572.0h9.6M305.3 87.4h9.6M305.3 92.9h9.6M305.3 97.0h9.6M305.3 100.4h9.6M305.3 106.7h9.6M305.3 111.6h9.6M305.3 120.3h9.6M305.3 125.4h9.6M305.3 196.8h9.6M305.3 219.7h9.6M305.3 243.6h9.6M305.3 248.7h9.6M305.3 254.4h9.6M305.3 264.5h9.6M305.3 274.1h9.6M305.3 278.1h9.6M305.3 281.2h9.6M305.3 291.7h9.6M305.3 295.4h9.6M305.3 299.4h9.6M305.3 305.5h9.6M305.3 312.2h9.6M305.3 314.7h9.6M305.3 328.2h9.6M305.3 331.9h9.6M305.3 347.1h9.6M305.3 351.2h9.6M305.3 355.2h9.6M305.3 361.9h9.6M305.3 376.1h9.6M305.3 381.1h9.6M305.3 387.0h9.6M305.3 392.7h9.6M305.3 398.2h9.6M305.3 404.3h9.6M305.3 421.9h9.6M305.3 514.9h9.6M305.3 529.1h9.6M305.3 542.3h9.6M305.3 546.3h9.6M305.3 551.7h9.6M305.3 554.8h9.6M305.3 565.9h9.6M305.3 579.1h9.6M657.5 87.4h9.6M657.5 92.9h9.6M657.5 97.0h9.6M657.5 100.4h9.6M657.5 106.7h9.6M657.5 111.6h9.6M657.5 120.3h9.6M657.5 125.4h9.6M657.5 196.8h9.6M657.5 219.7h9.6M657.5 243.6h9.6M657.5 248.7h9.6M657.5 254.4h9.6M657.5 264.5h9.6M657.5 274.1h9.6M657.5 278.1h9.6M657.5 281.2h9.6M657.5 291.7h9.6M657.5 295.4h9.6M657.5 299.4h9.6M657.5 305.5h9.6M657.5 312.2h9.6M657.5 314.7h9.6M657.5 328.2h9.6M657.5 331.9h9.6M657.5 347.1h9.6M657.5 351.2h9.6M657.5 355.2h9.6M657.5 361.9h9.6M657.5 376.1h9.6M657.5 381.1h9.6M657.5 387.0h9.6M657.5 392.7h9.6M657.5 398.2h9.6M657.5 404.3h9.6M657.5 421.9h9.6M657.5 514.9h9.6M657.5 529.1h9.6M657.5 542.3h9.6M657.5 546.3h9.6M657.5 551.7h9.6M657.5 554.8h9.6M657.5 565.9h9.6M657.5 579.1h9.6M321.3 85.8h9.6M321.3 88.4h9.6M321.3 97.0h9.6M321.3 100.0h9.6M321.3 104.7h9.6M321.3 107.1h9.6M321.3 109.5h9.6M321.3 123.3h9.6M321.3 128.0h9.6M321.3 187.9h9.6M321.3 194.8h9.6M321.3 205.1h9.6M321.3 233.5h9.6M321.3 237.5h9.6M321.3 249.7h9.6M321.3 257.8h9.6M321.3 266.6h9.6M321.3 282.2h9.6M321.3 288.3h9.6M321.3 293.3h9.6M321.3 300.4h9.6M321.3 305.5h9.6M321.3 314.7h9.6M321.3 320.7h9.6M321.3 325.8h9.6M321.3 328.2h9.6M321.3 333.9h9.6M321.3 340.0h9.6M321.3 350.2h9.6M321.3 361.3h9.6M321.3 368.4h9.6M321.3 373.6h9.6M321.3 379.8h9.6M321.3 387.4h9.6M321.3 395.6h9.6M321.3 399.6h9.6M321.3 402.9h9.6M321.3 408.3h9.6M321.3 423.6h9.6M321.3 427.2h9.6M321.3 502.7h9.6M321.3 505.7h9.6M321.3 520.6h9.6M321.3 534.8h9.6M321.3 539.6h9.6M321.3 542.9h9.6M321.3 547.3h9.6M321.3 549.7h9.6M321.3 559.9h9.6M321.3 562.9h9.6M321.3 590.7h9.6M641.5 85.8h9.6M641.5 88.4h9.6M641.5 97.0h9.6M641.5 100.0h9.6M641.5 104.7h9.6M641.5 107.1h9.6M641.5 109.5h9.6M641.5 123.3h9.6M641.5 128.0h9.6M641.5 187.9h9.6M641.5 194.8h9.6M641.5 205.1h9.6M641.5 233.5h9.6M641.5 237.5h9.6M641.5 249.7h9.6M641.5 257.8h9.6M641.5 266.6h9.6M641.5 282.2h9.6M641.5 288.3h9.6M641.5 293.3h9.6M641.5 300.4h9.6M641.5 305.5h9.6M641.5 314.7h9.6M641.5 320.7h9.6M641.5 325.8h9.6M641.5 328.2h9.6M641.5 333.9h9.6M641.5 340.0h9.6M641.5 350.2h9.6M641.5 361.3h9.6M641.5 368.4h9.6M641.5 373.6h9.6M641.5 379.8h9.6M641.5 387.4h9.6M641.5 395.6h9.6M641.5 399.6h9.6M641.5 402.9h9.6M641.5 408.3h9.6M641.5 423.6h9.6M641.5 427.2h9.6M641.5 502.7h9.6M641.5 505.7h9.6M641.5 520.6h9.6M641.5 534.8h9.6M641.5 539.6h9.6M641.5 542.9h9.6M641.5 547.3h9.6M641.5 549.7h9.6M641.5 559.9h9.6M641.5 562.9h9.6M641.5 590.7h9.6M337.3 82.8h9.6M337.3 99.0h9.6M337.3 102.6h9.6M337.3 105.5h9.6M337.3 108.1h9.6M337.3 110.8h9.6M337.3 114.2h9.6M337.3 127.4h9.6M337.3 131.5h9.6M337.3 168.6h9.6M337.3 192.9h9.6M337.3 204.1h9.6M337.3 225.4h9.6M337.3 245.0h9.6M337.3 253.2h9.6M337.3 256.4h9.6M337.3 284.2h9.6M337.3 296.4h9.6M337.3 310.6h9.6M337.3 318.7h9.6M337.3 324.8h9.6M337.3 332.9h9.6M337.3 343.1h9.6M337.3 351.2h9.6M337.3 358.3h9.6M337.3 364.4h9.6M337.3 377.3h9.6M337.3 388.0h9.6M337.3 400.2h9.6M337.3 411.4h9.6M337.3 428.6h9.6M337.3 433.3h9.6M337.3 489.5h9.6M337.3 510.8h9.6M337.3 528.1h9.6M337.3 532.5h9.6M337.3 535.2h9.6M337.3 537.5h9.6M337.3 541.2h9.6M337.3 557.8h9.6M337.3 605.1h9.6M625.5 82.8h9.6M625.5 99.0h9.6M625.5 102.6h9.6M625.5 105.5h9.6M625.5 108.1h9.6M625.5 110.8h9.6M625.5 114.2h9.6M625.5 127.4h9.6M625.5 131.5h9.6M625.5 168.6h9.6M625.5 192.9h9.6M625.5 204.1h9.6M625.5 225.4h9.6M625.5 245.0h9.6M625.5 253.2h9.6M625.5 256.4h9.6M625.5 284.2h9.6M625.5 296.4h9.6M625.5 310.6h9.6M625.5 318.7h9.6M625.5 324.8h9.6M625.5 332.9h9.6M625.5 343.1h9.6M625.5 351.2h9.6M625.5 358.3h9.6M625.5 364.4h9.6M625.5 377.3h9.6M625.5 388.0h9.6M625.5 400.2h9.6M625.5 411.4h9.6M625.5 428.6h9.6M625.5 433.3h9.6M625.5 489.5h9.6M625.5 510.8h9.6M625.5 528.1h9.6M625.5 532.5h9.6M625.5 535.2h9.6M625.5 537.5h9.6M625.5 541.2h9.6M625.5 557.8h9.6M625.5 605.1h9.6M353.3 76.7h9.6M353.3 93.5h9.6M353.3 102.0h9.6M353.3 104.7h9.6M353.3 109.1h9.6M353.3 112.2h9.6M353.3 114.8h9.6M353.3 118.9h9.6M353.3 132.5h9.6M353.3 136.1h9.6M353.3 138.6h9.6M353.3 150.1h9.6M353.3 191.9h9.6M353.3 205.1h9.6M353.3 214.2h9.6M353.3 219.3h9.6M353.3 238.6h9.6M353.3 242.6h9.6M353.3 245.7h9.6M353.3 248.7h9.6M353.3 285.2h9.6M353.3 294.4h9.6M353.3 301.5h9.6M353.3 312.6h9.6M353.3 321.3h9.6M353.3 326.8h9.6M353.3 329.9h9.6M353.3 337.0h9.6M353.3 342.0h9.6M353.3 348.1h9.6M353.3 355.2h9.6M353.3 368.4h9.6M353.3 376.8h9.6M353.3 388.0h9.6M353.3 394.1h9.6M353.3 401.6h9.6M353.3 404.3h9.6M353.3 426.6h9.6M353.3 439.8h9.6M353.3 469.2h9.6M353.3 476.3h9.6M353.3 502.3h9.6M353.3 522.0h9.6M353.3 525.0h9.6M353.3 527.4h9.6M353.3 530.1h9.6M353.3 536.2h9.6M353.3 552.4h9.6M353.3 620.7h9.6M609.5 76.7h9.6M609.5 93.5h9.6M609.5 102.0h9.6M609.5 104.7h9.6M609.5 109.1h9.6M609.5 112.2h9.6M609.5 114.8h9.6M609.5 118.9h9.6M609.5 132.5h9.6M609.5 136.1h9.6M609.5 138.6h9.6M609.5 150.1h9.6M609.5 191.9h9.6M609.5 205.1h9.6M609.5 214.2h9.6M609.5 219.3h9.6M609.5 238.6h9.6M609.5 242.6h9.6M609.5 245.7h9.6M609.5 248.7h9.6M609.5 285.2h9.6M609.5 294.4h9.6M609.5 301.5h9.6M609.5 312.6h9.6M609.5 321.3h9.6M609.5 326.8h9.6M609.5 329.9h9.6M609.5 337.0h9.6M609.5 342.0h9.6M609.5 348.1h9.6M609.5 355.2h9.6M609.5 368.4h9.6M609.5 376.8h9.6M609.5 388.0h9.6M609.5 394.1h9.6M609.5 401.6h9.6M609.5 404.3h9.6M609.5 426.6h9.6M609.5 439.8h9.6M609.5 469.2h9.6M609.5 476.3h9.6M609.5 502.3h9.6M609.5 522.0h9.6M609.5 525.0h9.6M609.5 527.4h9.6M609.5 530.1h9.6M609.5 536.2h9.6M609.5 552.4h9.6M609.5 620.7h9.6M369.3 69.6h9.6M369.3 72.6h9.6M369.3 86.4h9.6M369.3 102.0h9.6M369.3 107.5h9.6M369.3 113.2h9.6M369.3 116.9h9.6M369.3 119.3h9.6M369.3 124.0h9.6M369.3 128.4h9.6M369.3 141.6h9.6M369.3 145.3h9.6M369.3 191.3h9.6M369.3 205.1h9.6M369.3 209.1h9.6M369.3 233.5h9.6M369.3 237.5h9.6M369.3 240.6h9.6M369.3 245.7h9.6M369.3 281.6h9.6M369.3 296.4h9.6M369.3 304.5h9.6M369.3 312.6h9.6M369.3 322.8h9.6M369.3 329.9h9.6M369.3 337.0h9.6M369.3 340.0h9.6M369.3 345.1h9.6M369.3 353.2h9.6M369.3 358.3h9.6M369.3 376.1h9.6M369.3 381.1h9.6M369.3 389.1h9.6M369.3 392.7h9.6M369.3 396.8h9.6M369.3 407.3h9.6M369.3 409.8h9.6M369.3 412.4h9.6M369.3 415.4h9.6M369.3 420.5h9.6M369.3 436.7h9.6M369.3 448.5h9.6M369.3 450.9h9.6M369.3 471.2h9.6M369.3 496.2h9.6M369.3 514.9h9.6M369.3 518.9h9.6M369.3 523.0h9.6M369.3 527.0h9.6M369.3 530.1h9.6M369.3 544.3h9.6M369.3 638.0h9.6M593.5 69.6h9.6M593.5 72.6h9.6M593.5 86.4h9.6M593.5 102.0h9.6M593.5 107.5h9.6M593.5 113.2h9.6M593.5 116.9h9.6M593.5 119.3h9.6M593.5 124.0h9.6M593.5 128.4h9.6M593.5 141.6h9.6M593.5 145.3h9.6M593.5 191.3h9.6M593.5 205.1h9.6M593.5 209.1h9.6M593.5 233.5h9.6M593.5 237.5h9.6M593.5 240.6h9.6M593.5 245.7h9.6M593.5 281.6h9.6M593.5 296.4h9.6M593.5 304.5h9.6M593.5 312.6h9.6M593.5 322.8h9.6M593.5 329.9h9.6M593.5 337.0h9.6M593.5 340.0h9.6M593.5 345.1h9.6M593.5 353.2h9.6M593.5 358.3h9.6M593.5 376.1h9.6M593.5 381.1h9.6M593.5 389.1h9.6M593.5 392.7h9.6M593.5 396.8h9.6M593.5 407.3h9.6M593.5 409.8h9.6M593.5 412.4h9.6M593.5 415.4h9.6M593.5 420.5h9.6M593.5 436.7h9.6M593.5 448.5h9.6M593.5 450.9h9.6M593.5 471.2h9.6M593.5 496.2h9.6M593.5 514.9h9.6M593.5 518.9h9.6M593.5 523.0h9.6M593.5 527.0h9.6M593.5 530.1h9.6M593.5 544.3h9.6M593.5 638.0h9.6M385.4 64.1h9.6M385.4 66.5h9.6M385.4 78.3h9.6M385.4 98.4h9.6M385.4 112.2h9.6M385.4 115.2h9.6M385.4 117.9h9.6M385.4 122.3h9.6M385.4 125.0h9.6M385.4 129.4h9.6M385.4 147.7h9.6M385.4 152.4h9.6M385.4 157.4h9.6M385.4 190.3h9.6M385.4 196.4h9.6M385.4 201.5h9.6M385.4 207.1h9.6M385.4 227.4h9.6M385.4 234.5h9.6M385.4 241.6h9.6M385.4 276.5h9.6M385.4 299.4h9.6M385.4 306.5h9.6M385.4 310.6h9.6M385.4 317.7h9.6M385.4 323.8h9.6M385.4 332.9h9.6M385.4 336.0h9.6M385.4 348.1h9.6M385.4 351.2h9.6M385.4 364.4h9.6M385.4 373.6h9.6M385.4 381.1h9.6M385.4 387.0h9.6M385.4 393.5h9.6M385.4 398.2h9.6M385.4 403.3h9.6M385.4 406.3h9.6M385.4 412.4h9.6M385.4 416.5h9.6M385.4 427.6h9.6M385.4 430.0h9.6M385.4 438.8h9.6M385.4 441.8h9.6M385.4 454.0h9.6M385.4 490.9h9.6M385.4 507.4h9.6M385.4 512.8h9.6M385.4 516.2h9.6M385.4 518.9h9.6M385.4 523.0h9.6M385.4 535.2h9.6M385.4 655.2h9.6M577.4 64.1h9.6M577.4 66.5h9.6M577.4 78.3h9.6M577.4 98.4h9.6M577.4 112.2h9.6M577.4 115.2h9.6M577.4 117.9h9.6M577.4 122.3h9.6M577.4 125.0h9.6M577.4 129.4h9.6M577.4 147.7h9.6M577.4 152.4h9.6M577.4 157.4h9.6M577.4 190.3h9.6M577.4 196.4h9.6M577.4 201.5h9.6M577.4 207.1h9.6M577.4 227.4h9.6M577.4 234.5h9.6M577.4 241.6h9.6M577.4 276.5h9.6M577.4 299.4h9.6M577.4 306.5h9.6M577.4 310.6h9.6M577.4 317.7h9.6M577.4 323.8h9.6M577.4 332.9h9.6M577.4 336.0h9.6M577.4 348.1h9.6M577.4 351.2h9.6M577.4 364.4h9.6M577.4 373.6h9.6M577.4 381.1h9.6M577.4 387.0h9.6M577.4 393.5h9.6M577.4 398.2h9.6M577.4 403.3h9.6M577.4 406.3h9.6M577.4 412.4h9.6M577.4 416.5h9.6M577.4 427.6h9.6M577.4 430.0h9.6M577.4 438.8h9.6M577.4 441.8h9.6M577.4 454.0h9.6M577.4 490.9h9.6M577.4 507.4h9.6M577.4 512.8h9.6M577.4 516.2h9.6M577.4 518.9h9.6M577.4 523.0h9.6M577.4 535.2h9.6M577.4 655.2h9.6M401.4 58.4h9.6M401.4 60.8h9.6M401.4 69.6h9.6M401.4 94.5h9.6M401.4 105.1h9.6M401.4 116.9h9.6M401.4 122.9h9.6M401.4 129.4h9.6M401.4 135.9h9.6M401.4 154.2h9.6M401.4 159.9h9.6M401.4 168.6h9.6M401.4 187.9h9.6M401.4 196.8h9.6M401.4 207.7h9.6M401.4 220.3h9.6M401.4 229.4h9.6M401.4 240.6h9.6M401.4 243.6h9.6M401.4 271.4h9.6M401.4 296.4h9.6M401.4 303.5h9.6M401.4 307.5h9.6M401.4 311.6h9.6M401.4 322.8h9.6M401.4 327.8h9.6M401.4 330.9h9.6M401.4 343.1h9.6M401.4 346.1h9.6M401.4 366.8h9.6M401.4 373.6h9.6M401.4 388.0h9.6M401.4 399.6h9.6M401.4 402.2h9.6M401.4 405.3h9.6M401.4 415.4h9.6M401.4 421.1h9.6M401.4 424.6h9.6M401.4 428.6h9.6M401.4 435.7h9.6M401.4 450.3h9.6M401.4 460.1h9.6M401.4 489.5h9.6M401.4 501.7h9.6M401.4 506.8h9.6M401.4 510.8h9.6M401.4 513.9h9.6M401.4 525.0h9.6M401.4 528.1h9.6M401.4 547.9h9.6M401.4 673.1h9.6M561.4 58.4h9.6M561.4 60.8h9.6M561.4 69.6h9.6M561.4 94.5h9.6M561.4 105.1h9.6M561.4 116.9h9.6M561.4 122.9h9.6M561.4 129.4h9.6M561.4 135.9h9.6M561.4 154.2h9.6M561.4 159.9h9.6M561.4 168.6h9.6M561.4 187.9h9.6M561.4 196.8h9.6M561.4 207.7h9.6M561.4 220.3h9.6M561.4 229.4h9.6M561.4 240.6h9.6M561.4 243.6h9.6M561.4 271.4h9.6M561.4 296.4h9.6M561.4 303.5h9.6M561.4 307.5h9.6M561.4 311.6h9.6M561.4 322.8h9.6M561.4 327.8h9.6M561.4 330.9h9.6M561.4 343.1h9.6M561.4 346.1h9.6M561.4 366.8h9.6M561.4 373.6h9.6M561.4 388.0h9.6M561.4 399.6h9.6M561.4 402.2h9.6M561.4 405.3h9.6M561.4 415.4h9.6M561.4 421.1h9.6M561.4 424.6h9.6M561.4 428.6h9.6M561.4 435.7h9.6M561.4 450.3h9.6M561.4 460.1h9.6M561.4 489.5h9.6M561.4 501.7h9.6M561.4 506.8h9.6M561.4 510.8h9.6M561.4 513.9h9.6M561.4 525.0h9.6M561.4 528.1h9.6M561.4 547.9h9.6M561.4 673.1h9.6M417.4 54.4h9.6M417.4 62.1h9.6M417.4 89.9h9.6M417.4 95.9h9.6M417.4 121.3h9.6M417.4 128.4h9.6M417.4 135.9h9.6M417.4 141.2h9.6M417.4 161.5h9.6M417.4 167.0h9.6M417.4 178.1h9.6M417.4 183.2h9.6M417.4 196.8h9.6M417.4 211.2h9.6M417.4 215.2h9.6M417.4 227.4h9.6M417.4 237.5h9.6M417.4 248.3h9.6M417.4 268.4h9.6M417.4 289.3h9.6M417.4 297.4h9.6M417.4 303.5h9.6M417.4 311.6h9.6M417.4 319.7h9.6M417.4 323.8h9.6M417.4 328.9h9.6M417.4 339.0h9.6M417.4 343.1h9.6M417.4 362.3h9.6M417.4 366.4h9.6M417.4 387.4h9.6M417.4 393.1h9.6M417.4 406.3h9.6M417.4 410.4h9.6M417.4 415.4h9.6M417.4 421.5h9.6M417.4 426.6h9.6M417.4 430.7h9.6M417.4 433.7h9.6M417.4 442.8h9.6M417.4 456.0h9.6M417.4 463.1h9.6M417.4 489.5h9.6M417.4 495.6h9.6M417.4 503.7h9.6M417.4 506.8h9.6M417.4 517.9h9.6M417.4 521.3h9.6M417.4 589.9h9.6M417.4 691.1h9.6M545.4 54.4h9.6M545.4 62.1h9.6M545.4 89.9h9.6M545.4 95.9h9.6M545.4 121.3h9.6M545.4 128.4h9.6M545.4 135.9h9.6M545.4 141.2h9.6M545.4 161.5h9.6M545.4 167.0h9.6M545.4 178.1h9.6M545.4 183.2h9.6M545.4 196.8h9.6M545.4 211.2h9.6M545.4 215.2h9.6M545.4 227.4h9.6M545.4 237.5h9.6M545.4 248.3h9.6M545.4 268.4h9.6M545.4 289.3h9.6M545.4 297.4h9.6M545.4 303.5h9.6M545.4 311.6h9.6M545.4 319.7h9.6M545.4 323.8h9.6M545.4 328.9h9.6M545.4 339.0h9.6M545.4 343.1h9.6M545.4 362.3h9.6M545.4 366.4h9.6M545.4 387.4h9.6M545.4 393.1h9.6M545.4 406.3h9.6M545.4 410.4h9.6M545.4 415.4h9.6M545.4 421.5h9.6M545.4 426.6h9.6M545.4 430.7h9.6M545.4 433.7h9.6M545.4 442.8h9.6M545.4 456.0h9.6M545.4 463.1h9.6M545.4 489.5h9.6M545.4 495.6h9.6M545.4 503.7h9.6M545.4 506.8h9.6M545.4 517.9h9.6M545.4 521.3h9.6M545.4 589.9h9.6M545.4 691.1h9.6M433.4 50.9h9.6M433.4 55.4h9.6M433.4 87.4h9.6M433.4 90.3h9.6M433.4 125.4h9.6M433.4 134.5h9.6M433.4 142.6h9.6M433.4 146.7h9.6M433.4 150.7h9.6M433.4 167.6h9.6M433.4 177.1h9.6M433.4 181.2h9.6M433.4 185.8h9.6M433.4 203.0h9.6M433.4 206.1h9.6M433.4 211.2h9.6M433.4 217.2h9.6M433.4 228.4h9.6M433.4 236.5h9.6M433.4 252.8h9.6M433.4 266.6h9.6M433.4 282.2h9.6M433.4 293.3h9.6M433.4 296.4h9.6M433.4 309.6h9.6M433.4 312.6h9.6M433.4 318.7h9.6M433.4 323.8h9.6M433.4 328.9h9.6M433.4 334.9h9.6M433.4 341.0h9.6M433.4 352.2h9.6M433.4 384.3h9.6M433.4 387.0h9.6M433.4 400.2h9.6M433.4 411.4h9.6M433.4 414.4h9.6M433.4 429.6h9.6M433.4 432.7h9.6M433.4 438.2h9.6M433.4 440.8h9.6M433.4 444.9h9.6M433.4 449.5h9.6M433.4 460.1h9.6M433.4 487.5h9.6M433.4 490.5h9.6M433.4 494.6h9.6M433.4 499.7h9.6M433.4 511.8h9.6M433.4 514.2h9.6M433.4 632.9h9.6M433.4 709.1h9.6M529.4 50.9h9.6M529.4 55.4h9.6M529.4 87.4h9.6M529.4 90.3h9.6M529.4 125.4h9.6M529.4 134.5h9.6M529.4 142.6h9.6M529.4 146.7h9.6M529.4 150.7h9.6M529.4 167.6h9.6M529.4 177.1h9.6M529.4 181.2h9.6M529.4 185.8h9.6M529.4 203.0h9.6M529.4 206.1h9.6M529.4 211.2h9.6M529.4 217.2h9.6M529.4 228.4h9.6M529.4 236.5h9.6M529.4 252.8h9.6M529.4 266.6h9.6M529.4 282.2h9.6M529.4 293.3h9.6M529.4 296.4h9.6M529.4 309.6h9.6M529.4 312.6h9.6M529.4 318.7h9.6M529.4 323.8h9.6M529.4 328.9h9.6M529.4 334.9h9.6M529.4 341.0h9.6M529.4 352.2h9.6M529.4 384.3h9.6M529.4 387.0h9.6M529.4 400.2h9.6M529.4 411.4h9.6M529.4 414.4h9.6M529.4 429.6h9.6M529.4 432.7h9.6M529.4 438.2h9.6M529.4 440.8h9.6M529.4 444.9h9.6M529.4 449.5h9.6M529.4 460.1h9.6M529.4 487.5h9.6M529.4 490.5h9.6M529.4 494.6h9.6M529.4 499.7h9.6M529.4 511.8h9.6M529.4 514.2h9.6M529.4 632.9h9.6M529.4 709.1h9.6M449.4 48.7h9.6M449.4 85.2h9.6M449.4 129.8h9.6M449.4 140.6h9.6M449.4 148.3h9.6M449.4 154.8h9.6M449.4 168.0h9.6M449.4 172.0h9.6M449.4 175.7h9.6M449.4 182.2h9.6M449.4 185.8h9.6M449.4 199.4h9.6M449.4 205.1h9.6M449.4 215.2h9.6M449.4 226.4h9.6M449.4 231.5h9.6M449.4 236.5h9.6M449.4 257.2h9.6M449.4 269.0h9.6M449.4 271.4h9.6M449.4 287.3h9.6M449.4 290.3h9.6M449.4 294.4h9.6M449.4 306.5h9.6M449.4 321.8h9.6M449.4 324.8h9.6M449.4 336.0h9.6M449.4 340.0h9.6M449.4 384.8h9.6M449.4 407.3h9.6M449.4 415.4h9.6M449.4 436.7h9.6M449.4 439.8h9.6M449.4 445.9h9.6M449.4 448.9h9.6M449.4 452.0h9.6M449.4 457.0h9.6M449.4 459.7h9.6M449.4 463.1h9.6M449.4 484.4h9.6M449.4 487.5h9.6M449.4 492.5h9.6M449.4 506.8h9.6M449.4 509.1h9.6M449.4 676.1h9.6M449.4 727.3h9.6M513.4 48.7h9.6M513.4 85.2h9.6M513.4 129.8h9.6M513.4 140.6h9.6M513.4 148.3h9.6M513.4 154.8h9.6M513.4 168.0h9.6M513.4 172.0h9.6M513.4 175.7h9.6M513.4 182.2h9.6M513.4 185.8h9.6M513.4 199.4h9.6M513.4 205.1h9.6M513.4 215.2h9.6M513.4 226.4h9.6M513.4 231.5h9.6M513.4 236.5h9.6M513.4 257.2h9.6M513.4 269.0h9.6M513.4 271.4h9.6M513.4 287.3h9.6M513.4 290.3h9.6M513.4 294.4h9.6M513.4 306.5h9.6M513.4 321.8h9.6M513.4 324.8h9.6M513.4 336.0h9.6M513.4 340.0h9.6M513.4 384.8h9.6M513.4 407.3h9.6M513.4 415.4h9.6M513.4 436.7h9.6M513.4 439.8h9.6M513.4 445.9h9.6M513.4 448.9h9.6M513.4 452.0h9.6M513.4 457.0h9.6M513.4 459.7h9.6M513.4 463.1h9.6M513.4 484.4h9.6M513.4 487.5h9.6M513.4 492.5h9.6M513.4 506.8h9.6M513.4 509.1h9.6M513.4 676.1h9.6M513.4 727.3h9.6M465.4 46.6h9.6M465.4 84.2h9.6M465.4 132.1h9.6M465.4 145.7h9.6M465.4 151.1h9.6M465.4 153.8h9.6M465.4 166.4h9.6M465.4 175.1h9.6M465.4 184.6h9.6M465.4 198.4h9.6M465.4 201.0h9.6M465.4 227.4h9.6M465.4 231.5h9.6M465.4 235.5h9.6M465.4 239.6h9.6M465.4 259.9h9.6M465.4 275.1h9.6M465.4 278.1h9.6M465.4 284.2h9.6M465.4 289.3h9.6M465.4 293.3h9.6M465.4 300.4h9.6M465.4 303.5h9.6M465.4 306.5h9.6M465.4 320.7h9.6M465.4 330.9h9.6M465.4 338.4h9.6M465.4 386.1h9.6M465.4 413.4h9.6M465.4 417.5h9.6M465.4 440.8h9.6M465.4 444.3h9.6M465.4 449.9h9.6M465.4 454.0h9.6M465.4 465.2h9.6M465.4 469.2h9.6M465.4 474.3h9.6M465.4 480.0h9.6M465.4 485.4h9.6M465.4 489.5h9.6M465.4 506.8h9.6M465.4 719.8h9.6M465.4 745.6h9.6M497.4 46.6h9.6M497.4 84.2h9.6M497.4 132.1h9.6M497.4 145.7h9.6M497.4 151.1h9.6M497.4 153.8h9.6M497.4 166.4h9.6M497.4 175.1h9.6M497.4 184.6h9.6M497.4 198.4h9.6M497.4 201.0h9.6M497.4 227.4h9.6M497.4 231.5h9.6M497.4 235.5h9.6M497.4 239.6h9.6M497.4 259.9h9.6M497.4 275.1h9.6M497.4 278.1h9.6M497.4 284.2h9.6M497.4 289.3h9.6M497.4 293.3h9.6M497.4 300.4h9.6M497.4 303.5h9.6M497.4 306.5h9.6M497.4 320.7h9.6M497.4 330.9h9.6M497.4 338.4h9.6M497.4 386.1h9.6M497.4 413.4h9.6M497.4 417.5h9.6M497.4 440.8h9.6M497.4 444.3h9.6M497.4 449.9h9.6M497.4 454.0h9.6M497.4 465.2h9.6M497.4 469.2h9.6M497.4 474.3h9.6M497.4 480.0h9.6M497.4 485.4h9.6M497.4 489.5h9.6M497.4 506.8h9.6M497.4 719.8h9.6M497.4 745.6h9.6M481.4 45.8h9.6M481.4 83.8h9.6M481.4 132.5h9.6M481.4 147.7h9.6M481.4 152.4h9.6M481.4 156.8h9.6M481.4 166.0h9.6M481.4 170.0h9.6M481.4 175.5h9.6M481.4 185.8h9.6M481.4 197.4h9.6M481.4 231.5h9.6M481.4 243.6h9.6M481.4 248.7h9.6M481.4 260.9h9.6M481.4 274.1h9.6M481.4 279.1h9.6M481.4 283.2h9.6M481.4 288.3h9.6M481.4 301.5h9.6M481.4 305.5h9.6M481.4 318.7h9.6M481.4 328.9h9.6M481.4 338.4h9.6M481.4 386.1h9.6M481.4 415.4h9.6M481.4 419.1h9.6M481.4 440.8h9.6M481.4 446.9h9.6M481.4 449.9h9.6M481.4 455.0h9.6M481.4 473.3h9.6M481.4 482.4h9.6M481.4 490.5h9.6M481.4 506.8h9.6M481.4 762.8h9.6" stroke="#939598" stroke-opacity="0.8" stroke-width="1" fill="none"/>
<path d="M294.1 82.6v46.6M294.1 192.6v9.6M294.1 237.8v35.0M294.1 275.4v40.0M294.1 323.4v9.6M294.1 341.3v9.6M294.1 351.4v15.7M294.1 371.3v22.2M294.1 394.0v16.1M294.1 415.7v9.6M294.1 515.8v9.6M294.1 532.4v9.6M294.1 542.5v21.1M294.1 564.2v12.6M678.3 82.6v46.6M678.3 192.6v9.6M678.3 237.8v35.0M678.3 275.4v40.0M678.3 323.4v9.6M678.3 341.3v9.6M678.3 351.4v15.7M678.3 371.3v22.2M678.3 394.0v16.1M678.3 415.7v9.6M678.3 515.8v9.6M678.3 532.4v9.6M678.3 542.5v21.1M678.3 564.2v12.6M310.1 82.6v47.6M310.1 192.0v9.6M310.1 214.9v9.6M310.1 238.8v20.4M310.1 259.7v26.3M310.1 286.9v32.6M310.1 323.4v13.3M310.1 342.3v24.4M310.1 371.3v37.8M310.1 417.1v9.6M310.1 510.1v9.6M310.1 524.3v9.6M310.1 537.5v22.1M310.1 561.1v9.6M310.1 574.3v9.6M662.3 82.6v47.6M662.3 192.0v9.6M662.3 214.9v9.6M662.3 238.8v20.4M662.3 259.7v26.3M662.3 286.9v32.6M662.3 323.4v13.3M662.3 342.3v24.4M662.3 371.3v37.8M662.3 417.1v9.6M662.3 510.1v9.6M662.3 524.3v9.6M662.3 537.5v22.1M662.3 561.1v9.6M662.3 574.3v9.6M326.1 81.0v33.3M326.1 118.5v14.3M326.1 183.1v16.5M326.1 200.3v9.6M326.1 228.7v13.6M326.1 244.9v26.5M326.1 277.4v67.4M326.1 345.4v9.6M326.1 356.5v56.6M326.1 418.8v13.2M326.1 497.9v12.6M326.1 515.8v9.6M326.1 530.0v24.5M326.1 555.1v12.6M326.1 585.9v9.6M646.3 81.0v33.3M646.3 118.5v14.3M646.3 183.1v16.5M646.3 200.3v9.6M646.3 228.7v13.6M646.3 244.9v26.5M646.3 277.4v67.4M646.3 345.4v9.6M646.3 356.5v56.6M646.3 418.8v13.2M646.3 497.9v12.6M646.3 515.8v9.6M646.3 530.0v24.5M646.3 555.1v12.6M646.3 585.9v9.6M342.1 78.0v9.6M342.1 94.2v24.8M342.1 122.6v13.7M342.1 163.8v9.6M342.1 188.1v9.6M342.1 199.3v9.6M342.1 220.6v9.6M342.1 240.2v21.0M342.1 279.4v9.6M342.1 291.6v9.6M342.1 305.8v31.9M342.1 338.3v30.9M342.1 372.5v9.6M342.1 383.2v9.6M342.1 395.4v9.6M342.1 406.6v9.6M342.1 423.8v14.3M342.1 484.7v9.6M342.1 506.0v9.6M342.1 523.3v22.7M342.1 553.0v9.6M342.1 600.3v9.6M630.3 78.0v9.6M630.3 94.2v24.8M630.3 122.6v13.7M630.3 163.8v9.6M630.3 188.1v9.6M630.3 199.3v9.6M630.3 220.6v9.6M630.3 240.2v21.0M630.3 279.4v9.6M630.3 291.6v9.6M630.3 305.8v31.9M630.3 338.3v30.9M630.3 372.5v9.6M630.3 383.2v9.6M630.3 395.4v9.6M630.3 406.6v9.6M630.3 423.8v14.3M630.3 484.7v9.6M630.3 506.0v9.6M630.3 523.3v22.7M630.3 553.0v9.6M630.3 600.3v9.6M358.1 71.9v9.6M358.1 88.7v35.0M358.1 127.7v15.7M358.1 145.3v9.6M358.1 187.1v9.6M358.1 200.3v23.8M358.1 233.8v19.7M358.1 280.4v25.9M358.1 307.8v52.2M358.1 363.6v18.0M358.1 383.2v25.9M358.1 421.8v9.6M358.1 435.0v9.6M358.1 464.4v16.7M358.1 497.5v9.6M358.1 517.2v23.8M358.1 547.6v9.6M358.1 615.9v9.6M614.3 71.9v9.6M614.3 88.7v35.0M614.3 127.7v15.7M614.3 145.3v9.6M614.3 187.1v9.6M614.3 200.3v23.8M614.3 233.8v19.7M614.3 280.4v25.9M614.3 307.8v52.2M614.3 363.6v18.0M614.3 383.2v25.9M614.3 421.8v9.6M614.3 435.0v9.6M614.3 464.4v16.7M614.3 497.5v9.6M614.3 517.2v23.8M614.3 547.6v9.6M614.3 615.9v9.6M374.1 64.8v12.6M374.1 81.6v9.6M374.1 97.2v36.0M374.1 136.8v13.3M374.1 186.5v9.6M374.1 200.3v13.6M374.1 228.7v21.8M374.1 276.8v9.6M374.1 291.6v25.8M374.1 318.0v45.1M374.1 371.3v30.3M374.1 402.5v22.8M374.1 431.9v9.6M374.1 443.7v12.0M374.1 466.4v9.6M374.1 491.4v9.6M374.1 510.1v24.8M374.1 539.5v9.6M374.1 633.2v9.6M598.3 64.8v12.6M598.3 81.6v9.6M598.3 97.2v36.0M598.3 136.8v13.3M598.3 186.5v9.6M598.3 200.3v13.6M598.3 228.7v21.8M598.3 276.8v9.6M598.3 291.6v25.8M598.3 318.0v45.1M598.3 371.3v30.3M598.3 402.5v22.8M598.3 431.9v9.6M598.3 443.7v12.0M598.3 466.4v9.6M598.3 491.4v9.6M598.3 510.1v24.8M598.3 539.5v9.6M598.3 633.2v9.6M390.2 59.3v12.0M390.2 73.5v9.6M390.2 93.6v9.6M390.2 107.4v26.8M390.2 142.9v19.3M390.2 185.5v26.4M390.2 222.6v23.8M390.2 271.7v9.6M390.2 294.6v46.2M390.2 343.3v12.7M390.2 359.6v61.7M390.2 422.8v23.8M390.2 449.2v9.6M390.2 486.1v9.6M390.2 502.6v25.2M390.2 530.4v9.6M390.2 650.4v9.6M582.2 59.3v12.0M582.2 73.5v9.6M582.2 93.6v9.6M582.2 107.4v26.8M582.2 142.9v19.3M582.2 185.5v26.4M582.2 222.6v23.8M582.2 271.7v9.6M582.2 294.6v46.2M582.2 343.3v12.7M582.2 359.6v61.7M582.2 422.8v23.8M582.2 449.2v9.6M582.2 486.1v9.6M582.2 502.6v25.2M582.2 530.4v9.6M582.2 650.4v9.6M406.2 53.6v20.8M406.2 89.7v9.6M406.2 100.3v9.6M406.2 112.1v28.6M406.2 149.4v24.0M406.2 183.1v18.5M406.2 202.9v9.6M406.2 215.5v18.7M406.2 235.8v12.6M406.2 266.6v9.6M406.2 291.6v24.8M406.2 318.0v17.7M406.2 338.3v12.6M406.2 362.0v16.4M406.2 383.2v9.6M406.2 394.8v15.3M406.2 410.6v29.9M406.2 445.5v9.6M406.2 455.3v9.6M406.2 484.7v9.6M406.2 496.9v21.8M406.2 520.2v12.7M406.2 543.1v9.6M406.2 668.3v9.6M566.2 53.6v20.8M566.2 89.7v9.6M566.2 100.3v9.6M566.2 112.1v28.6M566.2 149.4v24.0M566.2 183.1v18.5M566.2 202.9v9.6M566.2 215.5v18.7M566.2 235.8v12.6M566.2 266.6v9.6M566.2 291.6v24.8M566.2 318.0v17.7M566.2 338.3v12.6M566.2 362.0v16.4M566.2 383.2v9.6M566.2 394.8v15.3M566.2 410.6v29.9M566.2 445.5v9.6M566.2 455.3v9.6M566.2 484.7v9.6M566.2 496.9v21.8M566.2 520.2v12.7M566.2 543.1v9.6M566.2 668.3v9.6M422.2 49.6v17.3M422.2 85.1v15.6M422.2 116.5v29.5M422.2 156.7v15.1M422.2 173.3v14.7M422.2 192.0v9.6M422.2 206.4v13.6M422.2 222.6v9.6M422.2 232.7v9.6M422.2 243.5v9.6M422.2 263.6v9.6M422.2 284.5v49.2M422.2 334.2v13.7M422.2 357.5v13.7M422.2 382.6v15.3M422.2 401.5v46.1M422.2 451.2v16.7M422.2 484.7v26.9M422.2 513.1v13.0M422.2 585.1v9.6M422.2 686.3v9.6M550.2 49.6v17.3M550.2 85.1v15.6M550.2 116.5v29.5M550.2 156.7v15.1M550.2 173.3v14.7M550.2 192.0v9.6M550.2 206.4v13.6M550.2 222.6v9.6M550.2 232.7v9.6M550.2 243.5v9.6M550.2 263.6v9.6M550.2 284.5v49.2M550.2 334.2v13.7M550.2 357.5v13.7M550.2 382.6v15.3M550.2 401.5v46.1M550.2 451.2v16.7M550.2 484.7v26.9M550.2 513.1v13.0M550.2 585.1v9.6M550.2 686.3v9.6M438.2 46.1v14.1M438.2 82.6v12.5M438.2 120.6v34.9M438.2 162.8v27.8M438.2 198.2v23.8M438.2 223.6v17.7M438.2 248.0v9.6M438.2 261.8v9.6M438.2 277.4v9.6M438.2 288.5v12.7M438.2 304.8v41.0M438.2 347.4v9.6M438.2 379.5v12.3M438.2 395.4v9.6M438.2 406.6v12.6M438.2 424.8v29.5M438.2 455.3v9.6M438.2 482.7v21.8M438.2 507.0v12.0M438.2 628.1v9.6M438.2 704.3v9.6M534.2 46.1v14.1M534.2 82.6v12.5M534.2 120.6v34.9M534.2 162.8v27.8M534.2 198.2v23.8M534.2 223.6v17.7M534.2 248.0v9.6M534.2 261.8v9.6M534.2 277.4v9.6M534.2 288.5v12.7M534.2 304.8v41.0M534.2 347.4v9.6M534.2 379.5v12.3M534.2 395.4v9.6M534.2 406.6v12.6M534.2 424.8v29.5M534.2 455.3v9.6M534.2 482.7v21.8M534.2 507.0v12.0M534.2 628.1v9.6M534.2 704.3v9.6M454.2 43.9v9.6M454.2 80.4v9.6M454.2 125.0v9.6M454.2 135.8v23.8M454.2 163.2v27.4M454.2 194.6v15.3M454.2 210.4v9.6M454.2 221.6v19.7M454.2 252.4v9.6M454.2 264.2v12.0M454.2 282.5v16.7M454.2 301.7v9.6M454.2 317.0v12.6M454.2 331.2v13.6M454.2 380.0v9.6M454.2 402.5v17.7M454.2 431.9v36.0M454.2 479.6v17.7M454.2 502.0v11.9M454.2 671.3v9.6M454.2 722.5v9.6M518.2 43.9v9.6M518.2 80.4v9.6M518.2 125.0v9.6M518.2 135.8v23.8M518.2 163.2v27.4M518.2 194.6v15.3M518.2 210.4v9.6M518.2 221.6v19.7M518.2 252.4v9.6M518.2 264.2v12.0M518.2 282.5v16.7M518.2 301.7v9.6M518.2 317.0v12.6M518.2 331.2v13.6M518.2 380.0v9.6M518.2 402.5v17.7M518.2 431.9v36.0M518.2 479.6v17.7M518.2 502.0v11.9M518.2 671.3v9.6M518.2 722.5v9.6M470.2 41.8v9.6M470.2 79.4v9.6M470.2 127.3v9.6M470.2 140.9v17.7M470.2 161.6v27.8M470.2 193.6v12.2M470.2 222.6v21.8M470.2 255.1v9.6M470.2 270.3v41.0M470.2 315.9v9.6M470.2 326.1v17.1M470.2 381.3v9.6M470.2 408.6v13.7M470.2 436.0v22.8M470.2 460.4v33.9M470.2 502.0v9.6M470.2 715.0v9.6M470.2 740.8v9.6M502.2 41.8v9.6M502.2 79.4v9.6M502.2 127.3v9.6M502.2 140.9v17.7M502.2 161.6v27.8M502.2 193.6v12.2M502.2 222.6v21.8M502.2 255.1v9.6M502.2 270.3v41.0M502.2 315.9v9.6M502.2 326.1v17.1M502.2 381.3v9.6M502.2 408.6v13.7M502.2 436.0v22.8M502.2 460.4v33.9M502.2 502.0v9.6M502.2 715.0v9.6M502.2 740.8v9.6M486.2 41.0v9.6M486.2 79.0v9.6M486.2 127.7v9.6M486.2 142.9v37.4M486.2 181.0v9.6M486.2 192.6v9.6M486.2 226.7v9.6M486.2 238.8v14.7M486.2 256.1v9.6M486.2 269.3v23.8M486.2 296.7v13.6M486.2 313.9v9.6M486.2 324.1v19.1M486.2 381.3v9.6M486.2 410.6v13.3M486.2 436.0v23.8M486.2 468.5v26.8M486.2 502.0v9.6M486.2 758.0v9.6" stroke="#939598" stroke-opacity="0.7" stroke-width="1" fill="none"/>
<path d="M353.3 426.2h9.6M358.1 421.4v9.6M609.5 426.2h9.6M614.3 421.4v9.6M385.4 507.4h9.6M390.2 502.6v9.6M577.4 507.4h9.6M582.2 502.6v9.6M401.4 547.9h9.6M406.2 543.1v9.6M561.4 547.9h9.6M566.2 543.1v9.6M305.3 579.1h9.6M310.1 574.3v9.6M657.5 579.1h9.6M662.3 574.3v9.6M321.3 590.7h9.6M326.1 585.9v9.6M641.5 590.7h9.6M646.3 585.9v9.6M337.3 605.1h9.6M342.1 600.3v9.6M625.5 605.1h9.6M630.3 600.3v9.6M353.3 620.7h9.6M358.1 615.9v9.6M609.5 620.7h9.6M614.3 615.9v9.6M369.3 638.0h9.6M374.1 633.2v9.6M593.5 638.0h9.6M598.3 633.2v9.6M385.4 655.2h9.6M390.2 650.4v9.6M577.4 655.2h9.6M582.2 650.4v9.6M417.4 589.9h9.6M422.2 585.1v9.6M545.4 589.9h9.6M550.2 585.1v9.6M401.4 673.1h9.6M406.2 668.3v9.6M561.4 673.1h9.6M566.2 668.3v9.6M417.4 691.1h9.6M422.2 686.3v9.6M545.4 691.1h9.6M550.2 686.3v9.6M433.4 709.1h9.6M438.2 704.3v9.6M529.4 709.1h9.6M534.2 704.3v9.6M449.4 727.3h9.6M454.2 722.5v9.6M513.4 727.3h9.6M518.2 722.5v9.6M465.4 745.6h9.6M470.2 740.8v9.6M497.4 745.6h9.6M502.2 740.8v9.6M481.4 762.8h9.6M486.2 758.0v9.6M433.4 632.9h9.6M438.2 628.1v9.6M529.4 632.9h9.6M534.2 628.1v9.6M449.4 676.1h9.6M454.2 671.3v9.6M513.4 676.1h9.6M518.2 671.3v9.6M465.4 719.8h9.6M470.2 715.0v9.6M497.4 719.8h9.6M502.2 715.0v9.6" stroke="#ffffff" stroke-opacity="0.28" stroke-width="1" fill="none"/>
<polyline points="86.0,46.4 89.3,46.5 92.7,46.7 96.0,47.0 99.3,47.4 102.7,48.0 106.0,48.6 109.3,49.4 112.7,50.3 116.0,51.4 119.3,52.5 122.7,53.8 126.0,55.2 129.4,56.7 132.7,58.3 136.0,60.1 139.4,62.0 142.7,64.0 146.0,66.1 149.4,68.3 152.7,70.7 156.0,73.2 159.4,75.8 162.7,78.5 166.0,81.3 169.4,84.3 172.7,87.3 176.0,90.5 179.4,93.8 182.7,97.3 186.1,100.8 189.4,104.5 192.7,108.2 196.1,112.1 199.4,116.1 202.7,120.2 206.1,124.5 209.4,128.8 212.7,133.2 216.1,137.8 219.4,142.5 222.7,147.3 226.1,152.1 229.4,157.1 232.7,162.2 236.1,167.5 239.4,172.8 242.7,178.2 246.1,183.7 249.4,189.4 252.8,195.1 256.1,200.9 259.4,206.8 262.8,212.9 266.1,219.0 269.4,225.2 272.8,231.5 276.1,237.9 279.4,244.4 282.8,251.0 286.1,257.7 289.4,264.4 292.8,271.3 296.1,278.2 299.4,285.3 302.8,292.4 306.1,299.5 309.4,306.8 312.8,314.1 316.1,321.6 319.5,329.0 322.8,336.6 326.1,344.2 329.5,351.9 332.8,359.7 336.1,367.5 339.5,375.5 342.8,383.4 346.1,391.4 349.5,399.5 352.8,407.7 356.1,415.9 359.5,424.1 362.8,432.5 366.1,440.8 369.5,449.2 372.8,457.7 376.1,466.2 379.5,474.8 382.8,483.4 386.1,492.0 389.5,500.7 392.8,509.4 396.2,518.2 399.5,527.0 402.8,535.8 406.2,544.7 409.5,553.6 412.8,562.5 416.2,571.5 419.5,580.5 422.8,589.5 426.2,598.6 429.5,607.6 432.8,616.7 436.2,625.8 439.5,634.9 442.8,644.1 446.2,653.2 449.5,662.4 452.8,671.6 456.2,680.8 459.5,690.0 462.9,699.3 466.2,708.5 469.5,717.7 472.9,727.0 476.2,736.2 479.5,745.5 482.9,754.7 486.2,764.0 489.5,754.7 492.9,745.5 496.2,736.2 499.5,727.0 502.9,717.7 506.2,708.5 509.5,699.3 512.9,690.0 516.2,680.8 519.5,671.6 522.9,662.4 526.2,653.2 529.6,644.1 532.9,634.9 536.2,625.8 539.6,616.7 542.9,607.6 546.2,598.6 549.6,589.5 552.9,580.5 556.2,571.5 559.6,562.5 562.9,553.6 566.2,544.7 569.6,535.8 572.9,527.0 576.2,518.2 579.6,509.4 582.9,500.7 586.2,492.0 589.6,483.4 592.9,474.8 596.3,466.2 599.6,457.7 602.9,449.2 606.3,440.8 609.6,432.5 612.9,424.1 616.3,415.9 619.6,407.7 622.9,399.5 626.3,391.4 629.6,383.4 632.9,375.5 636.3,367.5 639.6,359.7 642.9,351.9 646.3,344.2 649.6,336.6 653.0,329.0 656.3,321.6 659.6,314.1 663.0,306.8 666.3,299.5 669.6,292.4 673.0,285.3 676.3,278.2 679.6,271.3 683.0,264.4 686.3,257.7 689.6,251.0 693.0,244.4 696.3,237.9 699.6,231.5 703.0,225.2 706.3,219.0 709.6,212.9 713.0,206.8 716.3,200.9 719.6,195.1 723.0,189.4 726.3,183.7 729.7,178.2 733.0,172.8 736.3,167.5 739.7,162.2 743.0,157.1 746.3,152.1 749.7,147.3 753.0,142.5 756.3,137.8 759.7,133.2 763.0,128.8 766.3,124.5 769.7,120.2 773.0,116.1 776.3,112.1 779.7,108.2 783.0,104.5 786.4,100.8 789.7,97.3 793.0,93.8 796.4,90.5 799.7,87.3 803.0,84.3 806.4,81.3 809.7,78.5 813.0,75.8 816.4,73.2 819.7,70.7 823.0,68.3 826.4,66.1 829.7,64.0 833.0,62.0 836.4,60.1 839.7,58.3 843.0,56.7 846.4,55.2 849.7,53.8 853.0,52.5 856.4,51.4 859.7,50.3 863.1,49.4 866.4,48.6 869.7,48.0 873.1,47.4 876.4,47.0 879.7,46.7 883.1,46.5 886.4,46.4" fill="none" stroke="#a7a9ac" stroke-width="3.4" stroke-linejoin="round"/>
<polyline points="86.0,456.2 89.3,456.2 92.7,456.3 96.0,456.4 99.3,456.5 102.7,456.6 106.0,456.8 109.3,457.1 112.7,457.3 116.0,457.6 119.3,458.0 122.7,458.4 126.0,458.8 129.4,459.2 132.7,459.7 136.0,460.3 139.4,460.9 142.7,461.5 146.0,462.1 149.4,462.8 152.7,463.6 156.0,464.4 159.4,465.2 162.7,466.1 166.0,467.0 169.4,468.0 172.7,469.0 176.0,470.1 179.4,471.2 182.7,472.4 186.1,473.6 189.4,474.9 192.7,476.2 196.1,477.6 199.4,479.0 202.7,480.5 206.1,482.0 209.4,483.6 212.7,485.2 216.1,486.9 219.4,488.7 222.7,490.5 226.1,492.4 229.4,494.3 232.7,496.3 236.1,498.3 239.4,500.4 242.7,502.5 246.1,504.7 249.4,507.0 252.8,509.3 256.1,511.7 259.4,514.1 262.8,516.6 266.1,519.1 269.4,521.7 272.8,524.3 276.1,527.0 279.4,529.8 282.8,532.6 286.1,535.5 289.4,538.4 292.8,541.3 296.1,544.3 299.4,547.4 302.8,550.5 306.1,553.6 309.4,556.8 312.8,560.1 316.1,563.3 319.5,566.7 322.8,570.0 326.1,573.4 329.5,576.9 332.8,580.4 336.1,583.9 339.5,587.5 342.8,591.0 346.1,594.7 349.5,598.3 352.8,602.0 356.1,605.7 359.5,609.5 362.8,613.3 366.1,617.1 369.5,620.9 372.8,624.8 376.1,628.6 379.5,632.6 382.8,636.5 386.1,640.4 389.5,644.4 392.8,648.4 396.2,652.4 399.5,656.4 402.8,660.4 406.2,664.5 409.5,668.5 412.8,672.6 416.2,676.7 419.5,680.8 422.8,684.9 426.2,689.0 429.5,693.1 432.8,697.2 436.2,701.4 439.5,705.5 442.8,709.7 446.2,713.8 449.5,718.0 452.8,722.2 456.2,726.3 459.5,730.5 462.9,734.7 466.2,738.9 469.5,743.1 472.9,747.2 476.2,751.4 479.5,755.6 482.9,759.8 486.2,764.0 489.5,759.8 492.9,755.6 496.2,751.4 499.5,747.2 502.9,743.1 506.2,738.9 509.5,734.7 512.9,730.5 516.2,726.3 519.5,722.2 522.9,718.0 526.2,713.8 529.6,709.7 532.9,705.5 536.2,701.4 539.6,697.2 542.9,693.1 546.2,689.0 549.6,684.9 552.9,680.8 556.2,676.7 559.6,672.6 562.9,668.5 566.2,664.5 569.6,660.4 572.9,656.4 576.2,652.4 579.6,648.4 582.9,644.4 586.2,640.4 589.6,636.5 592.9,632.6 596.3,628.6 599.6,624.8 602.9,620.9 606.3,617.1 609.6,613.3 612.9,609.5 616.3,605.7 619.6,602.0 622.9,598.3 626.3,594.7 629.6,591.0 632.9,587.5 636.3,583.9 639.6,580.4 642.9,576.9 646.3,573.4 649.6,570.0 653.0,566.7 656.3,563.3 659.6,560.1 663.0,556.8 666.3,553.6 669.6,550.5 673.0,547.4 676.3,544.3 679.6,541.3 683.0,538.4 686.3,535.5 689.6,532.6 693.0,529.8 696.3,527.0 699.6,524.3 703.0,521.7 706.3,519.1 709.6,516.6 713.0,514.1 716.3,511.7 719.6,509.3 723.0,507.0 726.3,504.7 729.7,502.5 733.0,500.4 736.3,498.3 739.7,496.3 743.0,494.3 746.3,492.4 749.7,490.5 753.0,488.7 756.3,486.9 759.7,485.2 763.0,483.6 766.3,482.0 769.7,480.5 773.0,479.0 776.3,477.6 779.7,476.2 783.0,474.9 786.4,473.6 789.7,472.4 793.0,471.2 796.4,470.1 799.7,469.0 803.0,468.0 806.4,467.0 809.7,466.1 813.0,465.2 816.4,464.4 819.7,463.6 823.0,462.8 826.4,462.1 829.7,461.5 833.0,460.9 836.4,460.3 839.7,459.7 843.0,459.2 846.4,458.8 849.7,458.4 853.0,458.0 856.4,457.6 859.7,457.3 863.1,457.1 866.4,456.8 869.7,456.6 873.1,456.5 876.4,456.4 879.7,456.3 883.1,456.2 886.4,456.2" fill="none" stroke="#a7a9ac" stroke-width="3.4" stroke-linejoin="round"/>
</g>
<rect x="86" y="18.5" width="800.4" height="745.5" fill="none" stroke="#1b1718" stroke-width="2.6"/>
<path d="M86 689.5h10.3M86 614.9h10.3M86 540.4h10.3M86 465.8h10.3M86 391.2h10.3M86 316.7h10.3M86 242.1h10.3M86 167.6h10.3M86 93.0h10.3" stroke="#1b1718" stroke-width="2.6" fill="none"/>
<text transform="translate(79.3 774.1) scale(1 1.05)" font-size="33" text-anchor="end">0</text>
<text transform="translate(79.3 625.0) scale(1 1.05)" font-size="33" text-anchor="end">2</text>
<text transform="translate(79.3 475.9) scale(1 1.05)" font-size="33" text-anchor="end">4</text>
<text transform="translate(79.3 326.8) scale(1 1.05)" font-size="33" text-anchor="end">6</text>
<text transform="translate(79.3 177.7) scale(1 1.05)" font-size="33" text-anchor="end">8</text>
<text transform="translate(79.3 28.6) scale(1 1.05)" font-size="33" text-anchor="end">10</text>
<text transform="translate(87.5 796.6)" font-size="33" text-anchor="middle">L</text>
<text transform="translate(485.2 796.6) scale(1.15 1)" font-size="33" text-anchor="middle">Γ</text>
<text transform="translate(885.4 796.6)" font-size="33" text-anchor="middle">L</text>
<text transform="translate(486.2 835.8) scale(1 1.02)" font-size="45" text-anchor="middle">Wave vector</text>
<text transform="translate(38.0 391.2) rotate(-90) scale(1 1.02)" font-size="45" text-anchor="middle">Phonon frequency (THz)</text>
<rect x="914" y="18.5" width="37.3" height="745.5" fill="url(#cb)" stroke="#1b1718" stroke-width="2.6"/>
<text transform="translate(966.2 774.1) scale(1 1.05)" font-size="33" text-anchor="start">0.00</text>
<text transform="translate(966.2 680.9) scale(1 1.05)" font-size="33" text-anchor="start">0.25</text>
<text transform="translate(966.2 587.7) scale(1 1.05)" font-size="33" text-anchor="start">0.50</text>
<text transform="translate(966.2 494.5) scale(1 1.05)" font-size="33" text-anchor="start">0.75</text>
<text transform="translate(966.2 401.4) scale(1 1.05)" font-size="33" text-anchor="start">1.00</text>
<text transform="translate(966.2 308.2) scale(1 1.05)" font-size="33" text-anchor="start">1.25</text>
<text transform="translate(966.2 215.0) scale(1 1.05)" font-size="33" text-anchor="start">1.50</text>
<text transform="translate(966.2 121.8) scale(1 1.05)" font-size="33" text-anchor="start">1.75</text>
<text transform="translate(966.2 28.6) scale(1 1.05)" font-size="33" text-anchor="start">2.00</text>
<path d="M951.3 764.0h10M951.3 670.8h10M951.3 577.6h10M951.3 484.4h10M951.3 391.2h10M951.3 298.1h10M951.3 204.9h10M951.3 111.7h10M951.3 18.5h10" stroke="#1b1718" stroke-width="2.6" fill="none"/>
</svg></body></html>
